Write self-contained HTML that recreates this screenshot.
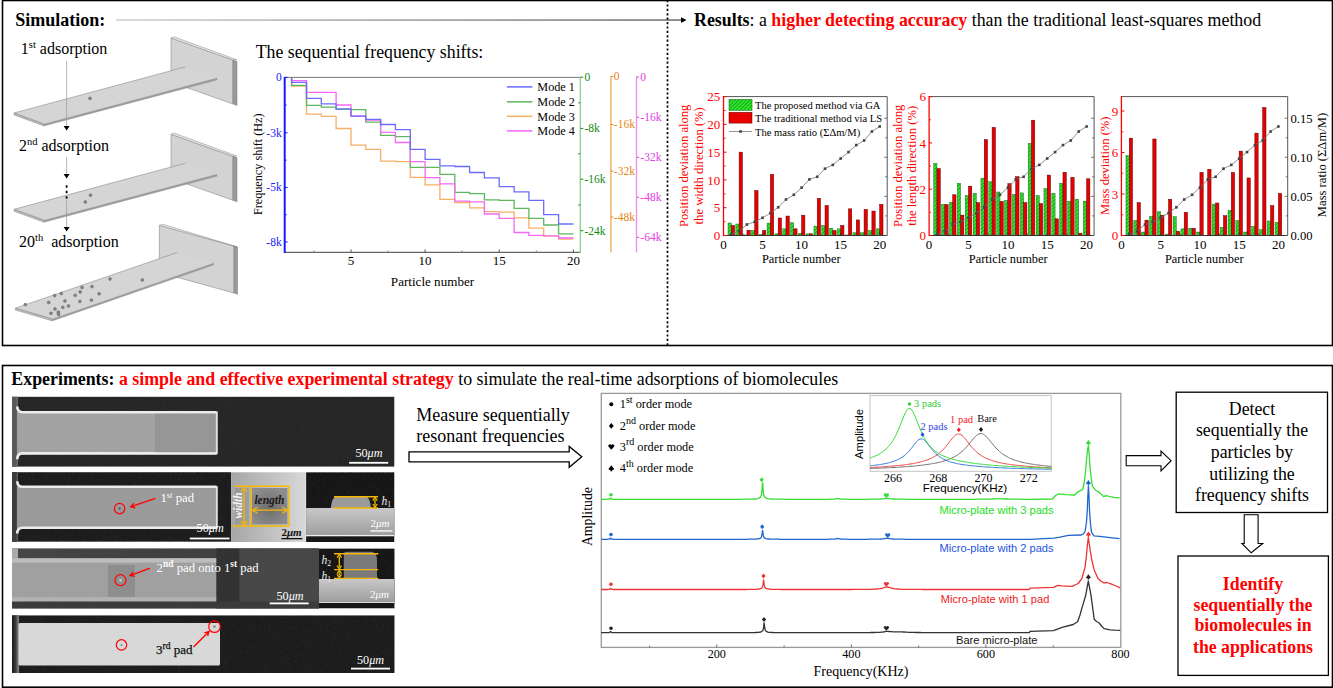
<!DOCTYPE html>
<html><head><meta charset="utf-8"><title>Sequential particle detection</title>
<style>html,body{margin:0;padding:0;background:#fff;}svg{display:block;}</style></head>
<body><svg width="1333" height="688" viewBox="0 0 1333 688">
<rect width="1333" height="688" fill="#fff"/>
<rect x="2.5" y="0.5" width="1330" height="345" fill="none" stroke="#000" stroke-width="1.6"/>
<text x="15.3" y="26.0" font-size="18" fill="#000" text-anchor="start" font-weight="bold" font-family="'Liberation Serif', 'Times New Roman', serif" >Simulation:</text>
<defs><linearGradient id="lg1" x1="0" x2="1" y1="0" y2="0"><stop offset="0" stop-color="#c8c8c8"/><stop offset="1" stop-color="#555"/></linearGradient></defs>
<rect x="116" y="19.4" width="566" height="1.3" fill="url(#lg1)"/>
<polygon points="681.0,17.3 686.5,20.1 681.0,22.9" fill="#000" stroke="none" stroke-width="0.5" />
<line x1="667.5" y1="0.0" x2="667.5" y2="345.0" stroke="#000" stroke-width="1.7" stroke-dasharray="2.2,2.2"/>
<text x="694" y="26.4" font-size="17.85" font-family="'Liberation Serif', 'Times New Roman', serif" fill="#000"><tspan font-weight="bold">Results</tspan>: a <tspan font-weight="bold" fill="#ff0000">higher detecting accuracy</tspan> than the traditional least-squares method</text>
<text x="20.8" y="54.4" font-size="16" font-family="'Liberation Serif', 'Times New Roman', serif" fill="#000">1<tspan font-size="10.5" dy="-6">st</tspan><tspan dy="6"> adsorption</tspan></text>
<text x="19" y="151" font-size="16" font-family="'Liberation Serif', 'Times New Roman', serif" fill="#000">2<tspan font-size="10.5" dy="-6">nd</tspan><tspan dy="6"> adsorption</tspan></text>
<text x="19" y="247" font-size="16" font-family="'Liberation Serif', 'Times New Roman', serif" fill="#000">20<tspan font-size="10.5" dy="-6">th</tspan><tspan dy="6">&#160; adsorption</tspan></text>
<polygon points="171.0,38.0 233.0,60.0 233.0,104.0 171.0,82.0" fill="#d3d3d3" stroke="#8a8a8a" stroke-width="0.6" />
<polygon points="171.0,38.0 174.0,36.8 237.0,59.8 233.0,60.0" fill="#e6e6e6" stroke="#8a8a8a" stroke-width="0.5" />
<polygon points="233.0,60.0 237.0,61.5 237.0,105.5 233.0,104.0" fill="#9a9a9a" stroke="#777" stroke-width="0.5" />
<polygon points="14.0,113.0 185.0,67.0 217.0,78.0 44.0,124.0" fill="#d5d5d5" stroke="none" stroke-width="0.5" />
<line x1="14.0" y1="113.0" x2="185.0" y2="67.0" stroke="#8a8a8a" stroke-width="0.6" />
<line x1="14.0" y1="113.0" x2="44.0" y2="124.0" stroke="#8a8a8a" stroke-width="0.6" />
<polygon points="44.0,124.0 217.0,78.0 217.0,79.9 44.0,126.0" fill="#9c9c9c" stroke="#888" stroke-width="0.3" />
<polygon points="14.0,113.0 44.0,124.0 44.0,126.0 14.0,114.9" fill="#bdbdbd" stroke="#777" stroke-width="0.4" />
<circle cx="90" cy="98.4" r="1.4" fill="#8a8a8a" stroke="#555" stroke-width="0.5"/>
<polygon points="171.0,134.3 233.0,156.3 233.0,200.3 171.0,178.3" fill="#d3d3d3" stroke="#8a8a8a" stroke-width="0.6" />
<polygon points="171.0,134.3 174.0,133.1 237.0,156.1 233.0,156.3" fill="#e6e6e6" stroke="#8a8a8a" stroke-width="0.5" />
<polygon points="233.0,156.3 237.0,157.8 237.0,201.8 233.0,200.3" fill="#9a9a9a" stroke="#777" stroke-width="0.5" />
<polygon points="14.0,209.3 185.0,163.3 217.0,174.3 44.0,220.3" fill="#d5d5d5" stroke="none" stroke-width="0.5" />
<line x1="14.0" y1="209.3" x2="185.0" y2="163.3" stroke="#8a8a8a" stroke-width="0.6" />
<line x1="14.0" y1="209.3" x2="44.0" y2="220.3" stroke="#8a8a8a" stroke-width="0.6" />
<polygon points="44.0,220.3 217.0,174.3 217.0,176.2 44.0,222.3" fill="#9c9c9c" stroke="#888" stroke-width="0.3" />
<polygon points="14.0,209.3 44.0,220.3 44.0,222.3 14.0,211.2" fill="#bdbdbd" stroke="#777" stroke-width="0.4" />
<circle cx="90.5" cy="195.2" r="1.4" fill="#8a8a8a" stroke="#555" stroke-width="0.5"/>
<circle cx="85.3" cy="202" r="1.4" fill="#8a8a8a" stroke="#555" stroke-width="0.5"/>
<polygon points="159.4,225.4 234.0,246.0 234.0,293.0 159.4,272.4" fill="#d3d3d3" stroke="#8a8a8a" stroke-width="0.6" />
<polygon points="159.4,225.4 162.5,224.2 237.5,247.0 234.0,246.0" fill="#e6e6e6" stroke="#8a8a8a" stroke-width="0.5" />
<polygon points="234.0,246.0 237.5,247.2 237.5,294.2 234.0,293.0" fill="#9a9a9a" stroke="#777" stroke-width="0.5" />
<polygon points="15.4,308.2 177.4,252.4 213.5,263.2 52.3,319.0" fill="#d5d5d5" stroke="none" stroke-width="0.5" />
<line x1="15.4" y1="308.2" x2="177.4" y2="252.4" stroke="#8a8a8a" stroke-width="0.6" />
<line x1="15.4" y1="308.2" x2="52.3" y2="319.0" stroke="#8a8a8a" stroke-width="0.6" />
<polygon points="52.3,319.0 213.5,263.2 213.5,265.1 52.3,320.9" fill="#9c9c9c" stroke="#888" stroke-width="0.3" />
<polygon points="15.4,308.2 52.3,319.0 52.3,320.9 15.4,310.1" fill="#bdbdbd" stroke="#777" stroke-width="0.4" />
<circle cx="25.3" cy="304.6" r="1.4" fill="#8a8a8a" stroke="#555" stroke-width="0.5"/>
<circle cx="48.7" cy="302.5" r="1.4" fill="#8a8a8a" stroke="#555" stroke-width="0.5"/>
<circle cx="54.7" cy="295.6" r="1.4" fill="#8a8a8a" stroke="#555" stroke-width="0.5"/>
<circle cx="61.3" cy="293.5" r="1.4" fill="#8a8a8a" stroke="#555" stroke-width="0.5"/>
<circle cx="64.9" cy="301" r="1.4" fill="#8a8a8a" stroke="#555" stroke-width="0.5"/>
<circle cx="55" cy="309" r="1.4" fill="#8a8a8a" stroke="#555" stroke-width="0.5"/>
<circle cx="51" cy="313.3" r="1.4" fill="#8a8a8a" stroke="#555" stroke-width="0.5"/>
<circle cx="58.3" cy="312.2" r="1.4" fill="#8a8a8a" stroke="#555" stroke-width="0.5"/>
<circle cx="58.6" cy="314.5" r="1.4" fill="#8a8a8a" stroke="#555" stroke-width="0.5"/>
<circle cx="62.8" cy="307.3" r="1.4" fill="#8a8a8a" stroke="#555" stroke-width="0.5"/>
<circle cx="68.5" cy="306" r="1.4" fill="#8a8a8a" stroke="#555" stroke-width="0.5"/>
<circle cx="75.2" cy="295.3" r="1.4" fill="#8a8a8a" stroke="#555" stroke-width="0.5"/>
<circle cx="80.2" cy="292" r="1.4" fill="#8a8a8a" stroke="#555" stroke-width="0.5"/>
<circle cx="82" cy="287.5" r="1.4" fill="#8a8a8a" stroke="#555" stroke-width="0.5"/>
<circle cx="92" cy="286.6" r="1.4" fill="#8a8a8a" stroke="#555" stroke-width="0.5"/>
<circle cx="79.9" cy="301.4" r="1.4" fill="#8a8a8a" stroke="#555" stroke-width="0.5"/>
<circle cx="91.4" cy="300.1" r="1.4" fill="#8a8a8a" stroke="#555" stroke-width="0.5"/>
<circle cx="99.1" cy="293.8" r="1.4" fill="#8a8a8a" stroke="#555" stroke-width="0.5"/>
<circle cx="110" cy="279" r="1.4" fill="#8a8a8a" stroke="#555" stroke-width="0.5"/>
<circle cx="142.3" cy="280" r="1.4" fill="#8a8a8a" stroke="#555" stroke-width="0.5"/>
<line x1="66.6" y1="61.0" x2="66.6" y2="127.0" stroke="#999" stroke-width="0.7" />
<polygon points="63.6,126.0 69.6,126.0 66.6,130.5" fill="#000" stroke="none" stroke-width="0.5" />
<line x1="66.6" y1="157.0" x2="66.6" y2="175.0" stroke="#999" stroke-width="0.7" />
<polygon points="63.6,174.0 69.6,174.0 66.6,178.5" fill="#000" stroke="none" stroke-width="0.5" />
<rect x="65.7" y="185.3" width="1.8" height="2.4" fill="#000"/>
<rect x="65.7" y="190.8" width="1.8" height="2.4" fill="#000"/>
<rect x="65.7" y="196.3" width="1.8" height="2.4" fill="#000"/>
<line x1="66.6" y1="200.0" x2="66.6" y2="228.0" stroke="#999" stroke-width="0.7" />
<polygon points="63.6,227.0 69.6,227.0 66.6,231.5" fill="#000" stroke="none" stroke-width="0.5" />
<text x="255.7" y="57.5" font-size="17.8" fill="#000" text-anchor="start" font-weight="normal" font-family="'Liberation Serif', 'Times New Roman', serif" >The sequential frequency shifts:</text>
<path d="M291.6,77.4 L291.6,86.2 L306.5,86.2 L306.5,114.1 L321.3,114.1 L321.3,116.3 L336.1,116.3 L336.1,128.5 L351.0,128.5 L351.0,145.1 L365.8,145.1 L365.8,149.3 L380.6,149.3 L380.6,161.1 L395.4,161.1 L395.4,161.7 L410.3,161.7 L410.3,177.4 L425.1,177.4 L425.1,184.8 L439.9,184.8 L439.9,199.3 L454.8,199.3 L454.8,202.7 L469.6,202.7 L469.6,207.8 L484.4,207.8 L484.4,211.6 L499.2,211.6 L499.2,212.2 L514.1,212.2 L514.1,217.8 L528.9,217.8 L528.9,228.2 L543.7,228.2 L543.7,235.8 L558.6,235.8 L558.6,239.2 L573.4,239.2" fill="none" stroke="#f6b066" stroke-width="1.3"/>
<path d="M291.6,77.4 L291.6,85.3 L306.5,85.3 L306.5,105.3 L321.3,105.3 L321.3,107.1 L336.1,107.1 L336.1,109.3 L351.0,109.3 L351.0,109.7 L365.8,109.7 L365.8,122.2 L380.6,122.2 L380.6,135.3 L395.4,135.3 L395.4,136.7 L410.3,136.7 L410.3,167.3 L425.1,167.3 L425.1,167.4 L439.9,167.4 L439.9,174.4 L454.8,174.4 L454.8,192.3 L469.6,192.3 L469.6,193.6 L484.4,193.6 L484.4,199.9 L499.2,199.9 L499.2,200.4 L514.1,200.4 L514.1,208.4 L528.9,208.4 L528.9,218.4 L543.7,218.4 L543.7,225.0 L558.6,225.0 L558.6,233.9 L573.4,233.9" fill="none" stroke="#5cb85c" stroke-width="1.3"/>
<path d="M291.6,77.4 L291.6,80.6 L306.5,80.6 L306.5,92.3 L321.3,92.3 L321.3,92.3 L336.1,92.3 L336.1,105.0 L351.0,105.0 L351.0,116.1 L365.8,116.1 L365.8,120.2 L380.6,120.2 L380.6,132.4 L395.4,132.4 L395.4,142.5 L410.3,142.5 L410.3,161.7 L425.1,161.7 L425.1,177.6 L439.9,177.6 L439.9,183.8 L454.8,183.8 L454.8,201.2 L469.6,201.2 L469.6,201.8 L484.4,201.8 L484.4,214.0 L499.2,214.0 L499.2,218.4 L514.1,218.4 L514.1,232.5 L528.9,232.5 L528.9,235.4 L543.7,235.4 L543.7,235.8 L558.6,235.8 L558.6,238.0 L573.4,238.0" fill="none" stroke="#f56af5" stroke-width="1.3"/>
<path d="M291.6,77.4 L291.6,82.3 L306.5,82.3 L306.5,98.4 L321.3,98.4 L321.3,103.9 L336.1,103.9 L336.1,108.8 L351.0,108.8 L351.0,116.1 L365.8,116.1 L365.8,119.3 L380.6,119.3 L380.6,124.5 L395.4,124.5 L395.4,129.7 L410.3,129.7 L410.3,149.3 L425.1,149.3 L425.1,159.3 L439.9,159.3 L439.9,165.9 L454.8,165.9 L454.8,166.5 L469.6,166.5 L469.6,172.5 L484.4,172.5 L484.4,177.8 L499.2,177.8 L499.2,186.7 L514.1,186.7 L514.1,191.8 L528.9,191.8 L528.9,200.4 L543.7,200.4 L543.7,214.6 L558.6,214.6 L558.6,224.0 L573.4,224.0" fill="none" stroke="#6b6bff" stroke-width="1.3"/>
<line x1="284.7" y1="77.4" x2="580.3" y2="77.4" stroke="#777" stroke-width="1" />
<line x1="284.7" y1="252.4" x2="580.3" y2="252.4" stroke="#666" stroke-width="1.2" />
<line x1="284.7" y1="76.9" x2="284.7" y2="253.0" stroke="#1a1aff" stroke-width="2" />
<line x1="580.3" y1="76.9" x2="580.3" y2="252.9" stroke="#8fcf8f" stroke-width="1.3" />
<line x1="351.0" y1="252.4" x2="351.0" y2="249.4" stroke="#555" stroke-width="1" />
<text x="351.0" y="265.0" font-size="13" fill="#000" text-anchor="middle" font-weight="normal" font-family="'Liberation Serif', 'Times New Roman', serif" >5</text>
<line x1="425.1" y1="252.4" x2="425.1" y2="249.4" stroke="#555" stroke-width="1" />
<text x="425.1" y="265.0" font-size="13" fill="#000" text-anchor="middle" font-weight="normal" font-family="'Liberation Serif', 'Times New Roman', serif" >10</text>
<line x1="499.2" y1="252.4" x2="499.2" y2="249.4" stroke="#555" stroke-width="1" />
<text x="499.2" y="265.0" font-size="13" fill="#000" text-anchor="middle" font-weight="normal" font-family="'Liberation Serif', 'Times New Roman', serif" >15</text>
<line x1="573.4" y1="252.4" x2="573.4" y2="249.4" stroke="#555" stroke-width="1" />
<text x="573.4" y="265.0" font-size="13" fill="#000" text-anchor="middle" font-weight="normal" font-family="'Liberation Serif', 'Times New Roman', serif" >20</text>
<line x1="313.9" y1="252.4" x2="313.9" y2="250.4" stroke="#777" stroke-width="0.8" />
<line x1="388.0" y1="252.4" x2="388.0" y2="250.4" stroke="#777" stroke-width="0.8" />
<line x1="462.2" y1="252.4" x2="462.2" y2="250.4" stroke="#777" stroke-width="0.8" />
<line x1="536.3" y1="252.4" x2="536.3" y2="250.4" stroke="#777" stroke-width="0.8" />
<text x="432.5" y="285.5" font-size="13.1" fill="#000" text-anchor="middle" font-weight="normal" font-family="'Liberation Serif', 'Times New Roman', serif" >Particle number</text>
<text x="281.7" y="81.2" font-size="11.5" fill="#2222ff" text-anchor="end" font-weight="normal" font-family="'Liberation Serif', 'Times New Roman', serif" >0</text>
<line x1="284.7" y1="77.4" x2="287.7" y2="77.4" stroke="#1a1aff" stroke-width="1" />
<text x="281.7" y="136.6" font-size="11.5" fill="#2222ff" text-anchor="end" font-weight="normal" font-family="'Liberation Serif', 'Times New Roman', serif" >-3k</text>
<line x1="284.7" y1="132.8" x2="287.7" y2="132.8" stroke="#1a1aff" stroke-width="1" />
<text x="281.7" y="191.2" font-size="11.5" fill="#2222ff" text-anchor="end" font-weight="normal" font-family="'Liberation Serif', 'Times New Roman', serif" >-5k</text>
<line x1="284.7" y1="187.4" x2="287.7" y2="187.4" stroke="#1a1aff" stroke-width="1" />
<text x="281.7" y="245.8" font-size="11.5" fill="#2222ff" text-anchor="end" font-weight="normal" font-family="'Liberation Serif', 'Times New Roman', serif" >-8k</text>
<line x1="284.7" y1="242.0" x2="287.7" y2="242.0" stroke="#1a1aff" stroke-width="1" />
<line x1="284.7" y1="105.1" x2="286.7" y2="105.1" stroke="#1a1aff" stroke-width="1" />
<line x1="284.7" y1="160.1" x2="286.7" y2="160.1" stroke="#1a1aff" stroke-width="1" />
<line x1="284.7" y1="214.7" x2="286.7" y2="214.7" stroke="#1a1aff" stroke-width="1" />
<text x="0.0" y="0.0" font-size="12.2" fill="#000" text-anchor="middle" font-weight="normal" font-family="'Liberation Serif', 'Times New Roman', serif" transform="translate(262.2,164.3) rotate(-90)">Frequency shift (Hz)</text>
<text x="584.5" y="81.0" font-size="11.5" fill="#138a13" text-anchor="start" font-weight="normal" font-family="'Liberation Serif', 'Times New Roman', serif" >0</text>
<line x1="580.3" y1="77.2" x2="583.3" y2="77.2" stroke="#138a13" stroke-width="1" />
<text x="584.5" y="132.2" font-size="11.5" fill="#138a13" text-anchor="start" font-weight="normal" font-family="'Liberation Serif', 'Times New Roman', serif" >-8k</text>
<line x1="580.3" y1="128.4" x2="583.3" y2="128.4" stroke="#138a13" stroke-width="1" />
<text x="584.5" y="183.0" font-size="11.5" fill="#138a13" text-anchor="start" font-weight="normal" font-family="'Liberation Serif', 'Times New Roman', serif" >-16k</text>
<line x1="580.3" y1="179.2" x2="583.3" y2="179.2" stroke="#138a13" stroke-width="1" />
<text x="584.5" y="234.5" font-size="11.5" fill="#138a13" text-anchor="start" font-weight="normal" font-family="'Liberation Serif', 'Times New Roman', serif" >-24k</text>
<line x1="580.3" y1="230.7" x2="583.3" y2="230.7" stroke="#138a13" stroke-width="1" />
<line x1="578.3" y1="102.8" x2="580.3" y2="102.8" stroke="#138a13" stroke-width="1" />
<line x1="578.3" y1="153.8" x2="580.3" y2="153.8" stroke="#138a13" stroke-width="1" />
<line x1="578.3" y1="205.0" x2="580.3" y2="205.0" stroke="#138a13" stroke-width="1" />
<line x1="610.9" y1="76.6" x2="610.9" y2="252.5" stroke="#f2a650" stroke-width="1.3" />
<text x="613.8" y="80.4" font-size="11.5" fill="#e5861a" text-anchor="start" font-weight="normal" font-family="'Liberation Serif', 'Times New Roman', serif" >0</text>
<line x1="610.9" y1="76.6" x2="613.4" y2="76.6" stroke="#e5861a" stroke-width="1" />
<text x="613.8" y="128.4" font-size="11.5" fill="#e5861a" text-anchor="start" font-weight="normal" font-family="'Liberation Serif', 'Times New Roman', serif" >-16k</text>
<line x1="610.9" y1="124.6" x2="613.4" y2="124.6" stroke="#e5861a" stroke-width="1" />
<text x="613.8" y="174.9" font-size="11.5" fill="#e5861a" text-anchor="start" font-weight="normal" font-family="'Liberation Serif', 'Times New Roman', serif" >-32k</text>
<line x1="610.9" y1="171.1" x2="613.4" y2="171.1" stroke="#e5861a" stroke-width="1" />
<text x="613.8" y="220.8" font-size="11.5" fill="#e5861a" text-anchor="start" font-weight="normal" font-family="'Liberation Serif', 'Times New Roman', serif" >-48k</text>
<line x1="610.9" y1="217.0" x2="613.4" y2="217.0" stroke="#e5861a" stroke-width="1" />
<line x1="636.5" y1="76.6" x2="636.5" y2="252.5" stroke="#f08cf0" stroke-width="1.3" />
<text x="640.3" y="80.8" font-size="11.5" fill="#e040e0" text-anchor="start" font-weight="normal" font-family="'Liberation Serif', 'Times New Roman', serif" >0</text>
<line x1="636.5" y1="77.0" x2="639.0" y2="77.0" stroke="#e040e0" stroke-width="1" />
<text x="640.3" y="121.1" font-size="11.5" fill="#e040e0" text-anchor="start" font-weight="normal" font-family="'Liberation Serif', 'Times New Roman', serif" >-16k</text>
<line x1="636.5" y1="117.3" x2="639.0" y2="117.3" stroke="#e040e0" stroke-width="1" />
<text x="640.3" y="161.2" font-size="11.5" fill="#e040e0" text-anchor="start" font-weight="normal" font-family="'Liberation Serif', 'Times New Roman', serif" >-32k</text>
<line x1="636.5" y1="157.4" x2="639.0" y2="157.4" stroke="#e040e0" stroke-width="1" />
<text x="640.3" y="201.1" font-size="11.5" fill="#e040e0" text-anchor="start" font-weight="normal" font-family="'Liberation Serif', 'Times New Roman', serif" >-48k</text>
<line x1="636.5" y1="197.3" x2="639.0" y2="197.3" stroke="#e040e0" stroke-width="1" />
<text x="640.3" y="241.2" font-size="11.5" fill="#e040e0" text-anchor="start" font-weight="normal" font-family="'Liberation Serif', 'Times New Roman', serif" >-64k</text>
<line x1="636.5" y1="237.4" x2="639.0" y2="237.4" stroke="#e040e0" stroke-width="1" />
<line x1="506.9" y1="86.9" x2="532.4" y2="86.9" stroke="#6b6bff" stroke-width="1.5" />
<text x="537.3" y="91.1" font-size="12.2" fill="#000" text-anchor="start" font-weight="normal" font-family="'Liberation Serif', 'Times New Roman', serif" >Mode 1</text>
<line x1="506.9" y1="101.8" x2="532.4" y2="101.8" stroke="#5cb85c" stroke-width="1.5" />
<text x="537.3" y="106.0" font-size="12.2" fill="#000" text-anchor="start" font-weight="normal" font-family="'Liberation Serif', 'Times New Roman', serif" >Mode 2</text>
<line x1="506.9" y1="116.3" x2="532.4" y2="116.3" stroke="#f6b066" stroke-width="1.5" />
<text x="537.3" y="120.5" font-size="12.2" fill="#000" text-anchor="start" font-weight="normal" font-family="'Liberation Serif', 'Times New Roman', serif" >Mode 3</text>
<line x1="506.9" y1="130.9" x2="532.4" y2="130.9" stroke="#f56af5" stroke-width="1.5" />
<text x="537.3" y="135.1" font-size="12.2" fill="#000" text-anchor="start" font-weight="normal" font-family="'Liberation Serif', 'Times New Roman', serif" >Mode 4</text>
<defs><pattern id="hatch" patternUnits="userSpaceOnUse" width="2.6" height="2.6" patternTransform="rotate(45)"><rect width="2.6" height="2.6" fill="#2ee82e"/><rect width="0.8" height="2.6" fill="#139a13"/></pattern></defs>
<rect x="728.01" y="223.00" width="3.30" height="12.50" fill="url(#hatch)" stroke="#1a5a1a" stroke-width="0.4"/>
<rect x="731.31" y="225.50" width="3.30" height="10.00" fill="#e80000" stroke="#5a0000" stroke-width="0.5"/>
<rect x="735.82" y="224.00" width="3.30" height="11.50" fill="url(#hatch)" stroke="#1a5a1a" stroke-width="0.4"/>
<rect x="739.12" y="152.16" width="3.30" height="83.34" fill="#e80000" stroke="#5a0000" stroke-width="0.5"/>
<rect x="743.63" y="234.94" width="3.30" height="0.56" fill="url(#hatch)" stroke="#1a5a1a" stroke-width="0.4"/>
<rect x="746.93" y="230.22" width="3.30" height="5.28" fill="#e80000" stroke="#5a0000" stroke-width="0.5"/>
<rect x="751.44" y="230.22" width="3.30" height="5.28" fill="url(#hatch)" stroke="#1a5a1a" stroke-width="0.4"/>
<rect x="754.74" y="190.66" width="3.30" height="44.84" fill="#e80000" stroke="#5a0000" stroke-width="0.5"/>
<rect x="759.25" y="234.39" width="3.30" height="1.11" fill="url(#hatch)" stroke="#1a5a1a" stroke-width="0.4"/>
<rect x="762.55" y="230.50" width="3.30" height="5.00" fill="#e80000" stroke="#5a0000" stroke-width="0.5"/>
<rect x="767.06" y="223.00" width="3.30" height="12.50" fill="url(#hatch)" stroke="#1a5a1a" stroke-width="0.4"/>
<rect x="770.36" y="174.38" width="3.30" height="61.12" fill="#e80000" stroke="#5a0000" stroke-width="0.5"/>
<rect x="774.87" y="233.83" width="3.30" height="1.67" fill="url(#hatch)" stroke="#1a5a1a" stroke-width="0.4"/>
<rect x="778.17" y="218.00" width="3.30" height="17.50" fill="#e80000" stroke="#5a0000" stroke-width="0.5"/>
<rect x="782.68" y="228.83" width="3.30" height="6.67" fill="url(#hatch)" stroke="#1a5a1a" stroke-width="0.4"/>
<rect x="785.98" y="216.05" width="3.30" height="19.45" fill="#e80000" stroke="#5a0000" stroke-width="0.5"/>
<rect x="790.49" y="222.72" width="3.30" height="12.78" fill="url(#hatch)" stroke="#1a5a1a" stroke-width="0.4"/>
<rect x="793.79" y="228.83" width="3.30" height="6.67" fill="#e80000" stroke="#5a0000" stroke-width="0.5"/>
<rect x="798.30" y="233.28" width="3.30" height="2.22" fill="url(#hatch)" stroke="#1a5a1a" stroke-width="0.4"/>
<rect x="801.60" y="215.22" width="3.30" height="20.28" fill="#e80000" stroke="#5a0000" stroke-width="0.5"/>
<rect x="806.11" y="233.83" width="3.30" height="1.67" fill="url(#hatch)" stroke="#1a5a1a" stroke-width="0.4"/>
<rect x="809.41" y="233.83" width="3.30" height="1.67" fill="#e80000" stroke="#5a0000" stroke-width="0.5"/>
<rect x="813.92" y="226.05" width="3.30" height="9.45" fill="url(#hatch)" stroke="#1a5a1a" stroke-width="0.4"/>
<rect x="817.22" y="198.27" width="3.30" height="37.23" fill="#e80000" stroke="#5a0000" stroke-width="0.5"/>
<rect x="821.73" y="225.50" width="3.30" height="10.00" fill="url(#hatch)" stroke="#1a5a1a" stroke-width="0.4"/>
<rect x="825.03" y="205.50" width="3.30" height="30.00" fill="#e80000" stroke="#5a0000" stroke-width="0.5"/>
<rect x="829.54" y="228.28" width="3.30" height="7.22" fill="url(#hatch)" stroke="#1a5a1a" stroke-width="0.4"/>
<rect x="832.84" y="230.50" width="3.30" height="5.00" fill="#e80000" stroke="#5a0000" stroke-width="0.5"/>
<rect x="837.35" y="228.83" width="3.30" height="6.67" fill="url(#hatch)" stroke="#1a5a1a" stroke-width="0.4"/>
<rect x="840.65" y="225.50" width="3.30" height="10.00" fill="#e80000" stroke="#5a0000" stroke-width="0.5"/>
<rect x="845.16" y="234.94" width="3.30" height="0.56" fill="url(#hatch)" stroke="#1a5a1a" stroke-width="0.4"/>
<rect x="848.46" y="208.83" width="3.30" height="26.67" fill="#e80000" stroke="#5a0000" stroke-width="0.5"/>
<rect x="852.97" y="232.72" width="3.30" height="2.78" fill="url(#hatch)" stroke="#1a5a1a" stroke-width="0.4"/>
<rect x="856.27" y="219.94" width="3.30" height="15.56" fill="#e80000" stroke="#5a0000" stroke-width="0.5"/>
<rect x="860.78" y="232.72" width="3.30" height="2.78" fill="url(#hatch)" stroke="#1a5a1a" stroke-width="0.4"/>
<rect x="864.08" y="209.39" width="3.30" height="26.11" fill="#e80000" stroke="#5a0000" stroke-width="0.5"/>
<rect x="868.59" y="230.50" width="3.30" height="5.00" fill="url(#hatch)" stroke="#1a5a1a" stroke-width="0.4"/>
<rect x="871.89" y="211.05" width="3.30" height="24.45" fill="#e80000" stroke="#5a0000" stroke-width="0.5"/>
<rect x="876.40" y="228.83" width="3.30" height="6.67" fill="url(#hatch)" stroke="#1a5a1a" stroke-width="0.4"/>
<rect x="879.70" y="204.39" width="3.30" height="31.11" fill="#e80000" stroke="#5a0000" stroke-width="0.5"/>
<path d="M731.3,234.1 L739.1,231.2 L746.9,224.5 L754.7,221.9 L762.5,217.8 L770.4,213.1 L778.2,207.3 L786.0,199.5 L793.8,194.8 L801.6,187.6 L809.4,179.4 L817.2,176.8 L825.0,168.7 L832.8,164.9 L840.6,158.5 L848.5,152.1 L856.3,145.1 L864.1,140.5 L871.9,131.5 L879.7,126.5" fill="none" stroke="#777" stroke-width="0.8"/>
<rect x="730.0" y="232.8" width="2.6" height="2.6" fill="#444"/>
<rect x="737.8" y="229.9" width="2.6" height="2.6" fill="#444"/>
<rect x="745.6" y="223.2" width="2.6" height="2.6" fill="#444"/>
<rect x="753.4" y="220.6" width="2.6" height="2.6" fill="#444"/>
<rect x="761.2" y="216.5" width="2.6" height="2.6" fill="#444"/>
<rect x="769.1" y="211.8" width="2.6" height="2.6" fill="#444"/>
<rect x="776.9" y="206.0" width="2.6" height="2.6" fill="#444"/>
<rect x="784.7" y="198.2" width="2.6" height="2.6" fill="#444"/>
<rect x="792.5" y="193.5" width="2.6" height="2.6" fill="#444"/>
<rect x="800.3" y="186.3" width="2.6" height="2.6" fill="#444"/>
<rect x="808.1" y="178.1" width="2.6" height="2.6" fill="#444"/>
<rect x="815.9" y="175.5" width="2.6" height="2.6" fill="#444"/>
<rect x="823.7" y="167.4" width="2.6" height="2.6" fill="#444"/>
<rect x="831.5" y="163.6" width="2.6" height="2.6" fill="#444"/>
<rect x="839.4" y="157.2" width="2.6" height="2.6" fill="#444"/>
<rect x="847.2" y="150.8" width="2.6" height="2.6" fill="#444"/>
<rect x="855.0" y="143.8" width="2.6" height="2.6" fill="#444"/>
<rect x="862.8" y="139.2" width="2.6" height="2.6" fill="#444"/>
<rect x="870.6" y="130.2" width="2.6" height="2.6" fill="#444"/>
<rect x="878.4" y="125.2" width="2.6" height="2.6" fill="#444"/>
<line x1="723.5" y1="96.6" x2="887.2" y2="96.6" stroke="#555" stroke-width="1" />
<line x1="723.5" y1="235.5" x2="887.2" y2="235.5" stroke="#333" stroke-width="1.2" />
<line x1="887.2" y1="96.6" x2="887.2" y2="235.5" stroke="#555" stroke-width="1" />
<line x1="723.5" y1="96.1" x2="723.5" y2="236.1" stroke="#ff0000" stroke-width="1.3" />
<line x1="887.2" y1="235.5" x2="884.2" y2="235.5" stroke="#555" stroke-width="0.8" />
<line x1="887.2" y1="215.9" x2="885.2" y2="215.9" stroke="#555" stroke-width="0.8" />
<line x1="887.2" y1="196.4" x2="884.2" y2="196.4" stroke="#555" stroke-width="0.8" />
<line x1="887.2" y1="176.8" x2="885.2" y2="176.8" stroke="#555" stroke-width="0.8" />
<line x1="887.2" y1="157.3" x2="884.2" y2="157.3" stroke="#555" stroke-width="0.8" />
<line x1="887.2" y1="137.8" x2="885.2" y2="137.8" stroke="#555" stroke-width="0.8" />
<line x1="887.2" y1="118.2" x2="884.2" y2="118.2" stroke="#555" stroke-width="0.8" />
<line x1="723.5" y1="235.5" x2="726.5" y2="235.5" stroke="#ff0000" stroke-width="1" />
<text x="720.3" y="240.1" font-size="13" fill="#ff0000" text-anchor="end" font-weight="normal" font-family="'Liberation Serif', 'Times New Roman', serif" >0</text>
<line x1="723.5" y1="207.7" x2="726.5" y2="207.7" stroke="#ff0000" stroke-width="1" />
<text x="720.3" y="212.3" font-size="13" fill="#ff0000" text-anchor="end" font-weight="normal" font-family="'Liberation Serif', 'Times New Roman', serif" >5</text>
<line x1="723.5" y1="179.9" x2="726.5" y2="179.9" stroke="#ff0000" stroke-width="1" />
<text x="720.3" y="184.5" font-size="13" fill="#ff0000" text-anchor="end" font-weight="normal" font-family="'Liberation Serif', 'Times New Roman', serif" >10</text>
<line x1="723.5" y1="152.2" x2="726.5" y2="152.2" stroke="#ff0000" stroke-width="1" />
<text x="720.3" y="156.8" font-size="13" fill="#ff0000" text-anchor="end" font-weight="normal" font-family="'Liberation Serif', 'Times New Roman', serif" >15</text>
<line x1="723.5" y1="124.4" x2="726.5" y2="124.4" stroke="#ff0000" stroke-width="1" />
<text x="720.3" y="129.0" font-size="13" fill="#ff0000" text-anchor="end" font-weight="normal" font-family="'Liberation Serif', 'Times New Roman', serif" >20</text>
<line x1="723.5" y1="96.6" x2="726.5" y2="96.6" stroke="#ff0000" stroke-width="1" />
<text x="720.3" y="101.2" font-size="13" fill="#ff0000" text-anchor="end" font-weight="normal" font-family="'Liberation Serif', 'Times New Roman', serif" >25</text>
<line x1="723.5" y1="221.6" x2="725.5" y2="221.6" stroke="#ff0000" stroke-width="0.8" />
<line x1="723.5" y1="193.8" x2="725.5" y2="193.8" stroke="#ff0000" stroke-width="0.8" />
<line x1="723.5" y1="166.1" x2="725.5" y2="166.1" stroke="#ff0000" stroke-width="0.8" />
<line x1="723.5" y1="138.3" x2="725.5" y2="138.3" stroke="#ff0000" stroke-width="0.8" />
<line x1="723.5" y1="110.5" x2="725.5" y2="110.5" stroke="#ff0000" stroke-width="0.8" />
<text x="723.5" y="248.5" font-size="13" fill="#000" text-anchor="middle" font-weight="normal" font-family="'Liberation Serif', 'Times New Roman', serif" >0</text>
<text x="762.5" y="248.5" font-size="13" fill="#000" text-anchor="middle" font-weight="normal" font-family="'Liberation Serif', 'Times New Roman', serif" >5</text>
<line x1="762.5" y1="235.5" x2="762.5" y2="232.5" stroke="#333" stroke-width="0.8" />
<text x="801.6" y="248.5" font-size="13" fill="#000" text-anchor="middle" font-weight="normal" font-family="'Liberation Serif', 'Times New Roman', serif" >10</text>
<line x1="801.6" y1="235.5" x2="801.6" y2="232.5" stroke="#333" stroke-width="0.8" />
<text x="840.6" y="248.5" font-size="13" fill="#000" text-anchor="middle" font-weight="normal" font-family="'Liberation Serif', 'Times New Roman', serif" >15</text>
<line x1="840.6" y1="235.5" x2="840.6" y2="232.5" stroke="#333" stroke-width="0.8" />
<text x="879.7" y="248.5" font-size="13" fill="#000" text-anchor="middle" font-weight="normal" font-family="'Liberation Serif', 'Times New Roman', serif" >20</text>
<line x1="879.7" y1="235.5" x2="879.7" y2="232.5" stroke="#333" stroke-width="0.8" />
<line x1="743.0" y1="235.5" x2="743.0" y2="233.5" stroke="#333" stroke-width="0.7" />
<line x1="782.1" y1="235.5" x2="782.1" y2="233.5" stroke="#333" stroke-width="0.7" />
<line x1="821.1" y1="235.5" x2="821.1" y2="233.5" stroke="#333" stroke-width="0.7" />
<line x1="860.2" y1="235.5" x2="860.2" y2="233.5" stroke="#333" stroke-width="0.7" />
<text x="801.3" y="262.5" font-size="12.4" fill="#000" text-anchor="middle" font-weight="normal" font-family="'Liberation Serif', 'Times New Roman', serif" >Particle number</text>
<rect x="729" y="99.3" width="23" height="11.1" fill="url(#hatch)" stroke="#1a5a1a" stroke-width="0.5"/>
<rect x="729" y="112.3" width="23" height="10.8" fill="#e80000" stroke="#5a0000" stroke-width="0.5"/>
<line x1="729.0" y1="131.5" x2="752.0" y2="131.5" stroke="#777" stroke-width="0.8" />
<rect x="739.2" y="130.2" width="2.6" height="2.6" fill="#444"/>
<text x="755.0" y="108.6" font-size="10.55" fill="#000" text-anchor="start" font-weight="normal" font-family="'Liberation Serif', 'Times New Roman', serif" >The proposed method via GA</text>
<text x="755.0" y="121.6" font-size="10.55" fill="#000" text-anchor="start" font-weight="normal" font-family="'Liberation Serif', 'Times New Roman', serif" >The traditional method via LS</text>
<text x="755.0" y="135.5" font-size="10.55" fill="#000" text-anchor="start" font-weight="normal" font-family="'Liberation Serif', 'Times New Roman', serif" >The mass ratio (ΣΔm/M)</text>
<text x="0.0" y="0.0" font-size="12.6" fill="#ff0000" text-anchor="middle" font-weight="normal" font-family="'Liberation Serif', 'Times New Roman', serif" transform="translate(688.4,165.8) rotate(-90)">Position deviation along</text>
<text x="0.0" y="0.0" font-size="12.6" fill="#ff0000" text-anchor="middle" font-weight="normal" font-family="'Liberation Serif', 'Times New Roman', serif" transform="translate(702.6,165.8) rotate(-90)">the width direction (%)</text>
<rect x="933.68" y="163.50" width="3.30" height="72.00" fill="url(#hatch)" stroke="#1a5a1a" stroke-width="0.4"/>
<rect x="936.98" y="168.60" width="3.30" height="66.90" fill="#e80000" stroke="#5a0000" stroke-width="0.5"/>
<rect x="941.55" y="204.48" width="3.30" height="31.02" fill="url(#hatch)" stroke="#1a5a1a" stroke-width="0.4"/>
<rect x="944.85" y="204.48" width="3.30" height="31.02" fill="#e80000" stroke="#5a0000" stroke-width="0.5"/>
<rect x="949.43" y="202.16" width="3.30" height="33.34" fill="url(#hatch)" stroke="#1a5a1a" stroke-width="0.4"/>
<rect x="952.73" y="194.76" width="3.30" height="40.74" fill="#e80000" stroke="#5a0000" stroke-width="0.5"/>
<rect x="957.30" y="183.18" width="3.30" height="52.32" fill="url(#hatch)" stroke="#1a5a1a" stroke-width="0.4"/>
<rect x="960.60" y="215.13" width="3.30" height="20.37" fill="#e80000" stroke="#5a0000" stroke-width="0.5"/>
<rect x="965.18" y="195.45" width="3.30" height="40.05" fill="url(#hatch)" stroke="#1a5a1a" stroke-width="0.4"/>
<rect x="968.48" y="186.19" width="3.30" height="49.31" fill="#e80000" stroke="#5a0000" stroke-width="0.5"/>
<rect x="973.05" y="193.37" width="3.30" height="42.13" fill="url(#hatch)" stroke="#1a5a1a" stroke-width="0.4"/>
<rect x="976.35" y="202.63" width="3.30" height="32.87" fill="#e80000" stroke="#5a0000" stroke-width="0.5"/>
<rect x="980.93" y="178.09" width="3.30" height="57.41" fill="url(#hatch)" stroke="#1a5a1a" stroke-width="0.4"/>
<rect x="984.23" y="139.66" width="3.30" height="95.84" fill="#e80000" stroke="#5a0000" stroke-width="0.5"/>
<rect x="988.80" y="181.79" width="3.30" height="53.71" fill="url(#hatch)" stroke="#1a5a1a" stroke-width="0.4"/>
<rect x="992.10" y="127.39" width="3.30" height="108.11" fill="#e80000" stroke="#5a0000" stroke-width="0.5"/>
<rect x="996.68" y="191.98" width="3.30" height="43.52" fill="url(#hatch)" stroke="#1a5a1a" stroke-width="0.4"/>
<rect x="999.98" y="201.47" width="3.30" height="34.03" fill="#e80000" stroke="#5a0000" stroke-width="0.5"/>
<rect x="1004.55" y="200.54" width="3.30" height="34.96" fill="url(#hatch)" stroke="#1a5a1a" stroke-width="0.4"/>
<rect x="1007.85" y="183.64" width="3.30" height="51.86" fill="#e80000" stroke="#5a0000" stroke-width="0.5"/>
<rect x="1012.43" y="194.29" width="3.30" height="41.21" fill="url(#hatch)" stroke="#1a5a1a" stroke-width="0.4"/>
<rect x="1015.73" y="176.70" width="3.30" height="58.80" fill="#e80000" stroke="#5a0000" stroke-width="0.5"/>
<rect x="1020.30" y="192.90" width="3.30" height="42.60" fill="url(#hatch)" stroke="#1a5a1a" stroke-width="0.4"/>
<rect x="1023.60" y="202.63" width="3.30" height="32.87" fill="#e80000" stroke="#5a0000" stroke-width="0.5"/>
<rect x="1028.17" y="143.36" width="3.30" height="92.14" fill="url(#hatch)" stroke="#1a5a1a" stroke-width="0.4"/>
<rect x="1031.47" y="120.21" width="3.30" height="115.29" fill="#e80000" stroke="#5a0000" stroke-width="0.5"/>
<rect x="1036.05" y="195.45" width="3.30" height="40.05" fill="url(#hatch)" stroke="#1a5a1a" stroke-width="0.4"/>
<rect x="1039.35" y="203.55" width="3.30" height="31.95" fill="#e80000" stroke="#5a0000" stroke-width="0.5"/>
<rect x="1043.92" y="188.51" width="3.30" height="46.99" fill="url(#hatch)" stroke="#1a5a1a" stroke-width="0.4"/>
<rect x="1047.22" y="175.08" width="3.30" height="60.42" fill="#e80000" stroke="#5a0000" stroke-width="0.5"/>
<rect x="1051.80" y="193.37" width="3.30" height="42.13" fill="url(#hatch)" stroke="#1a5a1a" stroke-width="0.4"/>
<rect x="1055.10" y="218.83" width="3.30" height="16.67" fill="#e80000" stroke="#5a0000" stroke-width="0.5"/>
<rect x="1059.67" y="183.18" width="3.30" height="52.32" fill="url(#hatch)" stroke="#1a5a1a" stroke-width="0.4"/>
<rect x="1062.97" y="172.30" width="3.30" height="63.20" fill="#e80000" stroke="#5a0000" stroke-width="0.5"/>
<rect x="1067.55" y="201.24" width="3.30" height="34.26" fill="url(#hatch)" stroke="#1a5a1a" stroke-width="0.4"/>
<rect x="1070.85" y="177.39" width="3.30" height="58.11" fill="#e80000" stroke="#5a0000" stroke-width="0.5"/>
<rect x="1075.42" y="199.15" width="3.30" height="36.35" fill="url(#hatch)" stroke="#1a5a1a" stroke-width="0.4"/>
<rect x="1078.72" y="233.19" width="3.30" height="2.31" fill="#e80000" stroke="#5a0000" stroke-width="0.5"/>
<rect x="1083.30" y="201.24" width="3.30" height="34.26" fill="url(#hatch)" stroke="#1a5a1a" stroke-width="0.4"/>
<rect x="1086.60" y="178.78" width="3.30" height="56.72" fill="#e80000" stroke="#5a0000" stroke-width="0.5"/>
<path d="M937.0,234.1 L944.9,231.2 L952.7,224.5 L960.6,221.9 L968.5,217.8 L976.4,213.1 L984.2,207.3 L992.1,199.5 L1000.0,194.8 L1007.9,187.6 L1015.7,179.4 L1023.6,176.8 L1031.5,168.7 L1039.3,164.9 L1047.2,158.5 L1055.1,152.1 L1063.0,145.1 L1070.8,140.5 L1078.7,131.5 L1086.6,126.5" fill="none" stroke="#777" stroke-width="0.8"/>
<rect x="935.7" y="232.8" width="2.6" height="2.6" fill="#444"/>
<rect x="943.6" y="229.9" width="2.6" height="2.6" fill="#444"/>
<rect x="951.4" y="223.2" width="2.6" height="2.6" fill="#444"/>
<rect x="959.3" y="220.6" width="2.6" height="2.6" fill="#444"/>
<rect x="967.2" y="216.5" width="2.6" height="2.6" fill="#444"/>
<rect x="975.1" y="211.8" width="2.6" height="2.6" fill="#444"/>
<rect x="982.9" y="206.0" width="2.6" height="2.6" fill="#444"/>
<rect x="990.8" y="198.2" width="2.6" height="2.6" fill="#444"/>
<rect x="998.7" y="193.5" width="2.6" height="2.6" fill="#444"/>
<rect x="1006.6" y="186.3" width="2.6" height="2.6" fill="#444"/>
<rect x="1014.4" y="178.1" width="2.6" height="2.6" fill="#444"/>
<rect x="1022.3" y="175.5" width="2.6" height="2.6" fill="#444"/>
<rect x="1030.2" y="167.4" width="2.6" height="2.6" fill="#444"/>
<rect x="1038.0" y="163.6" width="2.6" height="2.6" fill="#444"/>
<rect x="1045.9" y="157.2" width="2.6" height="2.6" fill="#444"/>
<rect x="1053.8" y="150.8" width="2.6" height="2.6" fill="#444"/>
<rect x="1061.7" y="143.8" width="2.6" height="2.6" fill="#444"/>
<rect x="1069.5" y="139.2" width="2.6" height="2.6" fill="#444"/>
<rect x="1077.4" y="130.2" width="2.6" height="2.6" fill="#444"/>
<rect x="1085.3" y="125.2" width="2.6" height="2.6" fill="#444"/>
<line x1="929.1" y1="96.6" x2="1094.1" y2="96.6" stroke="#555" stroke-width="1" />
<line x1="929.1" y1="235.5" x2="1094.1" y2="235.5" stroke="#333" stroke-width="1.2" />
<line x1="1094.1" y1="96.6" x2="1094.1" y2="235.5" stroke="#555" stroke-width="1" />
<line x1="929.1" y1="96.1" x2="929.1" y2="236.1" stroke="#ff0000" stroke-width="1.3" />
<line x1="1094.1" y1="235.5" x2="1091.1" y2="235.5" stroke="#555" stroke-width="0.8" />
<line x1="1094.1" y1="215.9" x2="1092.1" y2="215.9" stroke="#555" stroke-width="0.8" />
<line x1="1094.1" y1="196.4" x2="1091.1" y2="196.4" stroke="#555" stroke-width="0.8" />
<line x1="1094.1" y1="176.8" x2="1092.1" y2="176.8" stroke="#555" stroke-width="0.8" />
<line x1="1094.1" y1="157.3" x2="1091.1" y2="157.3" stroke="#555" stroke-width="0.8" />
<line x1="1094.1" y1="137.8" x2="1092.1" y2="137.8" stroke="#555" stroke-width="0.8" />
<line x1="1094.1" y1="118.2" x2="1091.1" y2="118.2" stroke="#555" stroke-width="0.8" />
<line x1="929.1" y1="235.5" x2="932.1" y2="235.5" stroke="#ff0000" stroke-width="1" />
<text x="925.9" y="240.1" font-size="13" fill="#ff0000" text-anchor="end" font-weight="normal" font-family="'Liberation Serif', 'Times New Roman', serif" >0</text>
<line x1="929.1" y1="189.2" x2="932.1" y2="189.2" stroke="#ff0000" stroke-width="1" />
<text x="925.9" y="193.8" font-size="13" fill="#ff0000" text-anchor="end" font-weight="normal" font-family="'Liberation Serif', 'Times New Roman', serif" >2</text>
<line x1="929.1" y1="142.9" x2="932.1" y2="142.9" stroke="#ff0000" stroke-width="1" />
<text x="925.9" y="147.5" font-size="13" fill="#ff0000" text-anchor="end" font-weight="normal" font-family="'Liberation Serif', 'Times New Roman', serif" >4</text>
<line x1="929.1" y1="96.6" x2="932.1" y2="96.6" stroke="#ff0000" stroke-width="1" />
<text x="925.9" y="101.2" font-size="13" fill="#ff0000" text-anchor="end" font-weight="normal" font-family="'Liberation Serif', 'Times New Roman', serif" >6</text>
<line x1="929.1" y1="212.3" x2="931.1" y2="212.3" stroke="#ff0000" stroke-width="0.8" />
<line x1="929.1" y1="166.1" x2="931.1" y2="166.1" stroke="#ff0000" stroke-width="0.8" />
<line x1="929.1" y1="119.8" x2="931.1" y2="119.8" stroke="#ff0000" stroke-width="0.8" />
<text x="929.1" y="248.5" font-size="13" fill="#000" text-anchor="middle" font-weight="normal" font-family="'Liberation Serif', 'Times New Roman', serif" >0</text>
<text x="968.5" y="248.5" font-size="13" fill="#000" text-anchor="middle" font-weight="normal" font-family="'Liberation Serif', 'Times New Roman', serif" >5</text>
<line x1="968.5" y1="235.5" x2="968.5" y2="232.5" stroke="#333" stroke-width="0.8" />
<text x="1007.9" y="248.5" font-size="13" fill="#000" text-anchor="middle" font-weight="normal" font-family="'Liberation Serif', 'Times New Roman', serif" >10</text>
<line x1="1007.9" y1="235.5" x2="1007.9" y2="232.5" stroke="#333" stroke-width="0.8" />
<text x="1047.2" y="248.5" font-size="13" fill="#000" text-anchor="middle" font-weight="normal" font-family="'Liberation Serif', 'Times New Roman', serif" >15</text>
<line x1="1047.2" y1="235.5" x2="1047.2" y2="232.5" stroke="#333" stroke-width="0.8" />
<text x="1086.6" y="248.5" font-size="13" fill="#000" text-anchor="middle" font-weight="normal" font-family="'Liberation Serif', 'Times New Roman', serif" >20</text>
<line x1="1086.6" y1="235.5" x2="1086.6" y2="232.5" stroke="#333" stroke-width="0.8" />
<line x1="948.8" y1="235.5" x2="948.8" y2="233.5" stroke="#333" stroke-width="0.7" />
<line x1="988.2" y1="235.5" x2="988.2" y2="233.5" stroke="#333" stroke-width="0.7" />
<line x1="1027.5" y1="235.5" x2="1027.5" y2="233.5" stroke="#333" stroke-width="0.7" />
<line x1="1066.9" y1="235.5" x2="1066.9" y2="233.5" stroke="#333" stroke-width="0.7" />
<text x="1008.2" y="262.5" font-size="12.4" fill="#000" text-anchor="middle" font-weight="normal" font-family="'Liberation Serif', 'Times New Roman', serif" >Particle number</text>
<text x="0.0" y="0.0" font-size="12.6" fill="#ff0000" text-anchor="middle" font-weight="normal" font-family="'Liberation Serif', 'Times New Roman', serif" transform="translate(902.4,165.8) rotate(-90)">Position deviation along</text>
<text x="0.0" y="0.0" font-size="12.6" fill="#ff0000" text-anchor="middle" font-weight="normal" font-family="'Liberation Serif', 'Times New Roman', serif" transform="translate(916.4,165.8) rotate(-90)">the length direction (%)</text>
<rect x="1125.95" y="155.56" width="3.30" height="79.94" fill="url(#hatch)" stroke="#1a5a1a" stroke-width="0.4"/>
<rect x="1129.25" y="138.14" width="3.30" height="97.36" fill="#e80000" stroke="#5a0000" stroke-width="0.5"/>
<rect x="1133.80" y="220.43" width="3.30" height="15.07" fill="url(#hatch)" stroke="#1a5a1a" stroke-width="0.4"/>
<rect x="1137.10" y="202.72" width="3.30" height="32.78" fill="#e80000" stroke="#5a0000" stroke-width="0.5"/>
<rect x="1141.65" y="232.04" width="3.30" height="3.46" fill="url(#hatch)" stroke="#1a5a1a" stroke-width="0.4"/>
<rect x="1144.95" y="220.15" width="3.30" height="15.35" fill="#e80000" stroke="#5a0000" stroke-width="0.5"/>
<rect x="1149.50" y="216.55" width="3.30" height="18.95" fill="url(#hatch)" stroke="#1a5a1a" stroke-width="0.4"/>
<rect x="1152.80" y="138.97" width="3.30" height="96.53" fill="#e80000" stroke="#5a0000" stroke-width="0.5"/>
<rect x="1157.35" y="211.71" width="3.30" height="23.79" fill="url(#hatch)" stroke="#1a5a1a" stroke-width="0.4"/>
<rect x="1160.65" y="215.17" width="3.30" height="20.33" fill="#e80000" stroke="#5a0000" stroke-width="0.5"/>
<rect x="1165.20" y="234.12" width="3.30" height="1.38" fill="url(#hatch)" stroke="#1a5a1a" stroke-width="0.4"/>
<rect x="1168.50" y="199.27" width="3.30" height="36.23" fill="#e80000" stroke="#5a0000" stroke-width="0.5"/>
<rect x="1173.05" y="216.55" width="3.30" height="18.95" fill="url(#hatch)" stroke="#1a5a1a" stroke-width="0.4"/>
<rect x="1176.35" y="231.21" width="3.30" height="4.29" fill="#e80000" stroke="#5a0000" stroke-width="0.5"/>
<rect x="1180.90" y="228.86" width="3.30" height="6.64" fill="url(#hatch)" stroke="#1a5a1a" stroke-width="0.4"/>
<rect x="1184.20" y="212.27" width="3.30" height="23.23" fill="#e80000" stroke="#5a0000" stroke-width="0.5"/>
<rect x="1188.75" y="228.31" width="3.30" height="7.19" fill="url(#hatch)" stroke="#1a5a1a" stroke-width="0.4"/>
<rect x="1192.05" y="228.31" width="3.30" height="7.19" fill="#e80000" stroke="#5a0000" stroke-width="0.5"/>
<rect x="1196.60" y="232.04" width="3.30" height="3.46" fill="url(#hatch)" stroke="#1a5a1a" stroke-width="0.4"/>
<rect x="1199.90" y="172.44" width="3.30" height="63.06" fill="#e80000" stroke="#5a0000" stroke-width="0.5"/>
<rect x="1207.75" y="169.25" width="3.30" height="66.25" fill="#e80000" stroke="#5a0000" stroke-width="0.5"/>
<rect x="1212.30" y="204.11" width="3.30" height="31.39" fill="url(#hatch)" stroke="#1a5a1a" stroke-width="0.4"/>
<rect x="1215.60" y="203.00" width="3.30" height="32.50" fill="#e80000" stroke="#5a0000" stroke-width="0.5"/>
<rect x="1220.15" y="227.34" width="3.30" height="8.16" fill="url(#hatch)" stroke="#1a5a1a" stroke-width="0.4"/>
<rect x="1223.45" y="215.72" width="3.30" height="19.78" fill="#e80000" stroke="#5a0000" stroke-width="0.5"/>
<rect x="1228.00" y="210.19" width="3.30" height="25.31" fill="url(#hatch)" stroke="#1a5a1a" stroke-width="0.4"/>
<rect x="1231.30" y="172.44" width="3.30" height="63.06" fill="#e80000" stroke="#5a0000" stroke-width="0.5"/>
<rect x="1235.85" y="220.43" width="3.30" height="15.07" fill="url(#hatch)" stroke="#1a5a1a" stroke-width="0.4"/>
<rect x="1239.15" y="151.14" width="3.30" height="84.36" fill="#e80000" stroke="#5a0000" stroke-width="0.5"/>
<rect x="1243.70" y="232.04" width="3.30" height="3.46" fill="url(#hatch)" stroke="#1a5a1a" stroke-width="0.4"/>
<rect x="1247.00" y="177.97" width="3.30" height="57.53" fill="#e80000" stroke="#5a0000" stroke-width="0.5"/>
<rect x="1251.55" y="226.23" width="3.30" height="9.27" fill="url(#hatch)" stroke="#1a5a1a" stroke-width="0.4"/>
<rect x="1254.85" y="133.16" width="3.30" height="102.34" fill="#e80000" stroke="#5a0000" stroke-width="0.5"/>
<rect x="1259.40" y="229.69" width="3.30" height="5.81" fill="url(#hatch)" stroke="#1a5a1a" stroke-width="0.4"/>
<rect x="1262.70" y="107.57" width="3.30" height="127.93" fill="#e80000" stroke="#5a0000" stroke-width="0.5"/>
<rect x="1267.25" y="220.98" width="3.30" height="14.52" fill="url(#hatch)" stroke="#1a5a1a" stroke-width="0.4"/>
<rect x="1270.55" y="205.63" width="3.30" height="29.87" fill="#e80000" stroke="#5a0000" stroke-width="0.5"/>
<rect x="1275.10" y="222.36" width="3.30" height="13.14" fill="url(#hatch)" stroke="#1a5a1a" stroke-width="0.4"/>
<rect x="1278.40" y="193.46" width="3.30" height="42.04" fill="#e80000" stroke="#5a0000" stroke-width="0.5"/>
<path d="M1129.2,234.1 L1137.1,231.2 L1145.0,224.5 L1152.8,221.9 L1160.7,217.8 L1168.5,213.1 L1176.4,207.3 L1184.2,199.5 L1192.1,194.8 L1199.9,187.6 L1207.8,179.4 L1215.6,176.8 L1223.5,168.7 L1231.3,164.9 L1239.2,158.5 L1247.0,152.1 L1254.9,145.1 L1262.7,140.5 L1270.6,131.5 L1278.4,126.5" fill="none" stroke="#777" stroke-width="0.8"/>
<rect x="1128.0" y="232.8" width="2.6" height="2.6" fill="#444"/>
<rect x="1135.8" y="229.9" width="2.6" height="2.6" fill="#444"/>
<rect x="1143.7" y="223.2" width="2.6" height="2.6" fill="#444"/>
<rect x="1151.5" y="220.6" width="2.6" height="2.6" fill="#444"/>
<rect x="1159.4" y="216.5" width="2.6" height="2.6" fill="#444"/>
<rect x="1167.2" y="211.8" width="2.6" height="2.6" fill="#444"/>
<rect x="1175.1" y="206.0" width="2.6" height="2.6" fill="#444"/>
<rect x="1182.9" y="198.2" width="2.6" height="2.6" fill="#444"/>
<rect x="1190.8" y="193.5" width="2.6" height="2.6" fill="#444"/>
<rect x="1198.6" y="186.3" width="2.6" height="2.6" fill="#444"/>
<rect x="1206.5" y="178.1" width="2.6" height="2.6" fill="#444"/>
<rect x="1214.3" y="175.5" width="2.6" height="2.6" fill="#444"/>
<rect x="1222.2" y="167.4" width="2.6" height="2.6" fill="#444"/>
<rect x="1230.0" y="163.6" width="2.6" height="2.6" fill="#444"/>
<rect x="1237.9" y="157.2" width="2.6" height="2.6" fill="#444"/>
<rect x="1245.7" y="150.8" width="2.6" height="2.6" fill="#444"/>
<rect x="1253.6" y="143.8" width="2.6" height="2.6" fill="#444"/>
<rect x="1261.4" y="139.2" width="2.6" height="2.6" fill="#444"/>
<rect x="1269.3" y="130.2" width="2.6" height="2.6" fill="#444"/>
<rect x="1277.1" y="125.2" width="2.6" height="2.6" fill="#444"/>
<line x1="1121.4" y1="96.6" x2="1287.7" y2="96.6" stroke="#555" stroke-width="1" />
<line x1="1121.4" y1="235.5" x2="1287.7" y2="235.5" stroke="#333" stroke-width="1.2" />
<line x1="1287.7" y1="96.6" x2="1287.7" y2="235.5" stroke="#555" stroke-width="1" />
<line x1="1121.4" y1="96.1" x2="1121.4" y2="236.1" stroke="#ff0000" stroke-width="1.3" />
<line x1="1287.7" y1="235.5" x2="1284.7" y2="235.5" stroke="#555" stroke-width="0.8" />
<line x1="1287.7" y1="215.9" x2="1285.7" y2="215.9" stroke="#555" stroke-width="0.8" />
<line x1="1287.7" y1="196.4" x2="1284.7" y2="196.4" stroke="#555" stroke-width="0.8" />
<line x1="1287.7" y1="176.8" x2="1285.7" y2="176.8" stroke="#555" stroke-width="0.8" />
<line x1="1287.7" y1="157.3" x2="1284.7" y2="157.3" stroke="#555" stroke-width="0.8" />
<line x1="1287.7" y1="137.8" x2="1285.7" y2="137.8" stroke="#555" stroke-width="0.8" />
<line x1="1287.7" y1="118.2" x2="1284.7" y2="118.2" stroke="#555" stroke-width="0.8" />
<line x1="1121.4" y1="235.5" x2="1124.4" y2="235.5" stroke="#ff0000" stroke-width="1" />
<text x="1118.2" y="240.1" font-size="13" fill="#ff0000" text-anchor="end" font-weight="normal" font-family="'Liberation Serif', 'Times New Roman', serif" >0</text>
<line x1="1121.4" y1="194.0" x2="1124.4" y2="194.0" stroke="#ff0000" stroke-width="1" />
<text x="1118.2" y="198.6" font-size="13" fill="#ff0000" text-anchor="end" font-weight="normal" font-family="'Liberation Serif', 'Times New Roman', serif" >3</text>
<line x1="1121.4" y1="152.5" x2="1124.4" y2="152.5" stroke="#ff0000" stroke-width="1" />
<text x="1118.2" y="157.1" font-size="13" fill="#ff0000" text-anchor="end" font-weight="normal" font-family="'Liberation Serif', 'Times New Roman', serif" >6</text>
<line x1="1121.4" y1="111.0" x2="1124.4" y2="111.0" stroke="#ff0000" stroke-width="1" />
<text x="1118.2" y="115.6" font-size="13" fill="#ff0000" text-anchor="end" font-weight="normal" font-family="'Liberation Serif', 'Times New Roman', serif" >9</text>
<line x1="1121.4" y1="214.8" x2="1123.4" y2="214.8" stroke="#ff0000" stroke-width="0.8" />
<line x1="1121.4" y1="173.3" x2="1123.4" y2="173.3" stroke="#ff0000" stroke-width="0.8" />
<line x1="1121.4" y1="131.8" x2="1123.4" y2="131.8" stroke="#ff0000" stroke-width="0.8" />
<text x="1121.4" y="248.5" font-size="13" fill="#000" text-anchor="middle" font-weight="normal" font-family="'Liberation Serif', 'Times New Roman', serif" >0</text>
<text x="1160.7" y="248.5" font-size="13" fill="#000" text-anchor="middle" font-weight="normal" font-family="'Liberation Serif', 'Times New Roman', serif" >5</text>
<line x1="1160.7" y1="235.5" x2="1160.7" y2="232.5" stroke="#333" stroke-width="0.8" />
<text x="1199.9" y="248.5" font-size="13" fill="#000" text-anchor="middle" font-weight="normal" font-family="'Liberation Serif', 'Times New Roman', serif" >10</text>
<line x1="1199.9" y1="235.5" x2="1199.9" y2="232.5" stroke="#333" stroke-width="0.8" />
<text x="1239.2" y="248.5" font-size="13" fill="#000" text-anchor="middle" font-weight="normal" font-family="'Liberation Serif', 'Times New Roman', serif" >15</text>
<line x1="1239.2" y1="235.5" x2="1239.2" y2="232.5" stroke="#333" stroke-width="0.8" />
<text x="1278.4" y="248.5" font-size="13" fill="#000" text-anchor="middle" font-weight="normal" font-family="'Liberation Serif', 'Times New Roman', serif" >20</text>
<line x1="1278.4" y1="235.5" x2="1278.4" y2="232.5" stroke="#333" stroke-width="0.8" />
<line x1="1141.0" y1="235.5" x2="1141.0" y2="233.5" stroke="#333" stroke-width="0.7" />
<line x1="1180.3" y1="235.5" x2="1180.3" y2="233.5" stroke="#333" stroke-width="0.7" />
<line x1="1219.5" y1="235.5" x2="1219.5" y2="233.5" stroke="#333" stroke-width="0.7" />
<line x1="1258.8" y1="235.5" x2="1258.8" y2="233.5" stroke="#333" stroke-width="0.7" />
<text x="1204.3" y="262.5" font-size="12.4" fill="#000" text-anchor="middle" font-weight="normal" font-family="'Liberation Serif', 'Times New Roman', serif" >Particle number</text>
<text x="0.0" y="0.0" font-size="12.6" fill="#ff0000" text-anchor="middle" font-weight="normal" font-family="'Liberation Serif', 'Times New Roman', serif" transform="translate(1108.6,165.8) rotate(-90)">Mass deviation (%)</text>
<text x="1290.5" y="240.0" font-size="12.6" fill="#000" text-anchor="start" font-weight="normal" font-family="'Liberation Serif', 'Times New Roman', serif" >0.00</text>
<text x="1290.5" y="200.9" font-size="12.6" fill="#000" text-anchor="start" font-weight="normal" font-family="'Liberation Serif', 'Times New Roman', serif" >0.05</text>
<text x="1290.5" y="161.8" font-size="12.6" fill="#000" text-anchor="start" font-weight="normal" font-family="'Liberation Serif', 'Times New Roman', serif" >0.10</text>
<text x="1290.5" y="122.7" font-size="12.6" fill="#000" text-anchor="start" font-weight="normal" font-family="'Liberation Serif', 'Times New Roman', serif" >0.15</text>
<text x="0.0" y="0.0" font-size="12.6" fill="#000" text-anchor="middle" font-weight="normal" font-family="'Liberation Serif', 'Times New Roman', serif" transform="translate(1325.6,165) rotate(-90)">Mass ratio (ΣΔm/M)</text>
<rect x="2.5" y="365.5" width="1330" height="321.7" fill="none" stroke="#000" stroke-width="1.6"/>
<text x="11.3" y="384.8" font-size="17.87" font-family="'Liberation Serif', 'Times New Roman', serif" fill="#000"><tspan font-weight="bold">Experiments:</tspan> <tspan font-weight="bold" fill="#ff0000">a simple and effective experimental strategy</tspan> to simulate the real-time adsorptions of biomolecules</text>
<defs>
<filter id="noise" x="0" y="0" width="100%" height="100%"><feTurbulence type="fractalNoise" baseFrequency="0.9" numOctaves="2" seed="3" result="t"/><feColorMatrix in="t" type="matrix" values="0 0 0 0 0.5  0 0 0 0 0.5  0 0 0 0 0.5  0 0 0 0.9 -0.35" result="n"/><feComposite in="n" in2="SourceGraphic" operator="in" result="m"/><feBlend in="SourceGraphic" in2="m" mode="overlay"/></filter>
<linearGradient id="wallg" x1="0" x2="1"><stop offset="0" stop-color="#8a8a8a"/><stop offset="0.6" stop-color="#6a6a6a"/><stop offset="1" stop-color="#3a3a3a"/></linearGradient>
<linearGradient id="insA" x1="0" x2="1" y1="0" y2="0"><stop offset="0" stop-color="#a6a6a6"/><stop offset="0.6" stop-color="#c4c4c4"/><stop offset="1" stop-color="#d8d8d8"/></linearGradient>
<radialGradient id="sqA" cx="0.5" cy="0.55" r="0.6"><stop offset="0" stop-color="#6c6c6c"/><stop offset="1" stop-color="#8e8e8e"/></radialGradient>
<linearGradient id="subB" x1="0" x2="0" y1="0" y2="1"><stop offset="0" stop-color="#c8c8c8"/><stop offset="1" stop-color="#9e9e9e"/></linearGradient>
<linearGradient id="sem3bg" x1="0" x2="1"><stop offset="0" stop-color="#454545"/><stop offset="1" stop-color="#3c3c3c"/></linearGradient>
</defs>
<g filter="url(#noise)">
<rect x="12" y="396.8" width="382.3" height="69.8" fill="#272727"/>
<rect x="12" y="396.8" width="5.6" height="69.8" fill="#585858"/>
<rect x="17" y="411.6" width="200.5" height="42.6" fill="#a2a2a2" rx="1"/>
</g>
<line x1="17.3" y1="396.8" x2="17.3" y2="466.6" stroke="#9a9a9a" stroke-width="0.8" opacity="0.7"/>
<path d="M17.3,406.6 Q17.3,412.1 22.3,412.2 H216.5" fill="none" stroke="#ececec" stroke-width="2.6"/>
<path d="M17.3,459.2 Q17.3,453.5 22.3,453.4 H216.5" fill="none" stroke="#ececec" stroke-width="2.6"/>
<rect x="215.9" y="411.6" width="1.8" height="42.6" fill="#ececec" opacity="0.85"/>
<rect x="155" y="413.5" width="60.5" height="39" fill="#7a7a7a" opacity="0.3"/>
<rect x="349.1" y="461.9" width="39.1" height="1.8" fill="#fff"/>
<text x="355.4" y="457.2" font-size="12.2" font-family="'Liberation Serif', 'Times New Roman', serif" fill="#fff">50<tspan font-style="italic">μm</tspan></text>
<g filter="url(#noise)">
<rect x="12" y="472.2" width="219.2" height="69.5" fill="#1b1b1b"/>
<rect x="12" y="472.2" width="5.6" height="69.5" fill="#3c3c3c"/>
<rect x="17" y="486.2" width="200.5" height="42.4" fill="#9a9a9a" rx="1"/>
</g>
<line x1="17.3" y1="472.2" x2="17.3" y2="541.7" stroke="#9a9a9a" stroke-width="0.8" opacity="0.7"/>
<path d="M17.3,481.2 Q17.3,486.7 22.3,486.8 H216.5" fill="none" stroke="#ececec" stroke-width="2.6"/>
<path d="M17.3,533.6 Q17.3,527.9 22.3,527.8 H216.5" fill="none" stroke="#ececec" stroke-width="2.6"/>
<rect x="215.9" y="486.2" width="1.8" height="42.4" fill="#ececec" opacity="0.85"/>
<circle cx="119.6" cy="508.6" r="5.2" fill="none" stroke="#ff0000" stroke-width="1.2"/>
<circle cx="119.6" cy="508.6" r="1" fill="#444"/>
<line x1="155.3" y1="498.3" x2="134.1" y2="505.7" stroke="#ff0000" stroke-width="1.4" />
<polygon points="129.4,507.3 134.0,502.3 133.7,505.8 136.1,508.4" fill="#ff0000" stroke="none" stroke-width="0.5" />
<text x="160.4" y="502" font-size="12.8" font-family="'Liberation Serif', 'Times New Roman', serif" fill="#fff">1<tspan font-size="8.5" dy="-4.5">st</tspan><tspan dy="4.5"> pad</tspan></text>
<rect x="189.8" y="537.6" width="39.7" height="1.8" fill="#fff"/>
<text x="196.6" y="531.5" font-size="12.2" font-family="'Liberation Serif', 'Times New Roman', serif" fill="#fff">50<tspan font-style="italic">μm</tspan></text>
<g filter="url(#noise)">
<rect x="231.2" y="472.3" width="74.6" height="69.7" fill="url(#insA)"/>
<rect x="251.3" y="488" width="36.2" height="36.4" fill="url(#sqA)"/>
<rect x="235" y="488" width="14" height="36.4" fill="#8a8a8a" opacity="0.5"/>
</g>
<path d="M234.9,486.3 H288.9 V526 H232.8 M251.3,486.3 V526" fill="none" stroke="#f5b800" stroke-width="1.4"/>
<line x1="244.0" y1="489.5" x2="244.0" y2="523.0" stroke="#f5b800" stroke-width="1.3" />
<path d="M241,491.5 L244,487.5 L247,491.5" fill="none" stroke="#f5b800" stroke-width="1.3"/>
<path d="M241,521 L244,525 L247,521" fill="none" stroke="#f5b800" stroke-width="1.3"/>
<line x1="253.5" y1="510.2" x2="286.3" y2="510.2" stroke="#f5b800" stroke-width="1.3" />
<path d="M257.5,507.2 L252.5,510.2 L257.5,513.2" fill="none" stroke="#f5b800" stroke-width="1.3"/>
<path d="M282.3,507.2 L287.3,510.2 L282.3,513.2" fill="none" stroke="#f5b800" stroke-width="1.3"/>
<text x="0" y="0" font-size="11.5" font-style="italic" font-weight="bold" font-family="'Liberation Serif', 'Times New Roman', serif" fill="#f4f4f4" text-anchor="middle" transform="translate(242.2,505.5) rotate(-90)">width</text>
<text x="254.4" y="503.5" font-size="11.5" font-style="italic" font-weight="bold" font-family="'Liberation Serif', 'Times New Roman', serif" fill="#1a1a1a">length</text>
<text x="281.4" y="536" font-size="11" font-family="'Liberation Serif', 'Times New Roman', serif" font-weight="bold" fill="#111">2<tspan font-style="italic">μm</tspan></text>
<rect x="281.4" y="538" width="21" height="1.3" fill="#111"/>
<g filter="url(#noise)">
<rect x="306.1" y="472.3" width="88.2" height="69.7" fill="#141414"/>
<rect x="306.1" y="508" width="88.2" height="27.3" fill="url(#subB)"/>
<path d="M330.7,508 Q332,497 336,496.7 H366 Q370,497 371,508 Z" fill="#9a9a9a"/>
</g>
<rect x="306.1" y="535" width="88.2" height="1.3" fill="#f0f0f0"/>
<path d="M334,496.7 H378 M334,508 H378" fill="none" stroke="#f5b800" stroke-width="1.4"/>
<line x1="375.0" y1="499.5" x2="375.0" y2="505.2" stroke="#f5b800" stroke-width="1.3" />
<path d="M372.8,500.7 L375,497.5 L377.2,500.7" fill="none" stroke="#f5b800" stroke-width="1.3"/>
<path d="M372.8,504.0 L375,507.2 L377.2,504.0" fill="none" stroke="#f5b800" stroke-width="1.3"/>
<text x="381.5" y="505.2" font-size="11.5" font-style="italic" font-family="'Liberation Serif', 'Times New Roman', serif" fill="#eee">h<tspan font-size="7.5" dy="2" font-style="normal">1</tspan></text>
<text x="370.5" y="527.4" font-size="11" font-family="'Liberation Serif', 'Times New Roman', serif" fill="#fff">2<tspan font-style="italic">μm</tspan></text>
<rect x="370.5" y="530.3" width="22" height="1.3" fill="#fff"/>
<g filter="url(#noise)">
<rect x="12" y="548.4" width="307" height="60" fill="url(#sem3bg)"/>
<rect x="12" y="548.4" width="6" height="60" fill="#a9a9a9"/>
<rect x="12" y="558.3" width="204.5" height="43.4" fill="#a0a0a0"/>
<rect x="12" y="558.3" width="204.5" height="4.3" fill="#bdbdbd"/>
<rect x="12" y="597.2" width="204.5" height="4.4" fill="#b2b2b2"/>
<rect x="108" y="565" width="27" height="32" fill="#8e8e8e"/>
<rect x="216.5" y="548.4" width="23" height="60" fill="#323232"/>
<rect x="239.5" y="548.4" width="79.5" height="60" fill="#474747"/>
<rect x="12" y="601.6" width="307" height="6.8" fill="#3a3a3a"/>
</g>
<circle cx="120.5" cy="580.2" r="5.5" fill="none" stroke="#ff0000" stroke-width="1.2"/>
<circle cx="120.5" cy="580.2" r="1.3" fill="#d0d0d0"/>
<line x1="150.0" y1="568.2" x2="133.4" y2="574.3" stroke="#ff0000" stroke-width="1.4" />
<polygon points="128.7,576.0 133.2,570.9 132.9,574.5 135.4,576.9" fill="#ff0000" stroke="none" stroke-width="0.5" />
<text x="156.6" y="571.5" font-size="12.7" font-family="'Liberation Serif', 'Times New Roman', serif" fill="#fff">2<tspan font-size="9.5" dy="-4.8" font-weight="bold">nd</tspan><tspan dy="4.8"> pad onto 1</tspan><tspan font-size="9.5" dy="-4.8" font-weight="bold">st</tspan><tspan dy="4.8"> pad</tspan></text>
<rect x="269.7" y="602.5" width="39.0" height="1.8" fill="#fff"/>
<text x="276.5" y="600.0" font-size="12.2" font-family="'Liberation Serif', 'Times New Roman', serif" fill="#fff">50<tspan font-style="italic">μm</tspan></text>
<g filter="url(#noise)">
<rect x="319" y="548.6" width="75.5" height="59.7" fill="#161616"/>
<rect x="319" y="579" width="75.5" height="22.6" fill="url(#subB)"/>
<path d="M343.8,579 V553 Q345,551.7 348,551.7 H372 Q377,553 377,560 V579 Z" fill="#7a7a7a"/>
</g>
<rect x="319" y="601.6" width="75.5" height="1.3" fill="#eee"/>
<path d="M334,553.7 H378.3 M334,569.6 H378.3 M334,578.4 H378.3" fill="none" stroke="#f5b800" stroke-width="1.4"/>
<line x1="339.3" y1="556.5" x2="339.3" y2="566.8" stroke="#f5b800" stroke-width="1.3" />
<path d="M337.1,557.7 L339.3,554.5 L341.5,557.7" fill="none" stroke="#f5b800" stroke-width="1.3"/>
<path d="M337.1,565.5999999999999 L339.3,568.8 L341.5,565.5999999999999" fill="none" stroke="#f5b800" stroke-width="1.3"/>
<line x1="339.3" y1="572.4" x2="339.3" y2="575.6" stroke="#f5b800" stroke-width="1.3" />
<path d="M337.1,573.6 L339.3,570.4 L341.5,573.6" fill="none" stroke="#f5b800" stroke-width="1.3"/>
<path d="M337.1,574.4 L339.3,577.6 L341.5,574.4" fill="none" stroke="#f5b800" stroke-width="1.3"/>
<text x="321.5" y="564.4" font-size="11.5" font-style="italic" font-family="'Liberation Serif', 'Times New Roman', serif" fill="#eee">h<tspan font-size="7.5" dy="2" font-style="normal">2</tspan></text>
<text x="321.5" y="579.5" font-size="11.5" font-style="italic" font-family="'Liberation Serif', 'Times New Roman', serif" fill="#eee">h<tspan font-size="7.5" dy="2" font-style="normal">1</tspan></text>
<text x="370" y="598.2" font-size="11" font-family="'Liberation Serif', 'Times New Roman', serif" fill="#fff">2<tspan font-style="italic">μm</tspan></text>
<defs><linearGradient id="wall4" x1="0" x2="1"><stop offset="0" stop-color="#1a1a1a"/><stop offset="0.5" stop-color="#3a3a3a"/><stop offset="1" stop-color="#8a8a8a"/></linearGradient></defs>
<g filter="url(#noise)">
<rect x="12" y="615.4" width="382.5" height="57.6" fill="#1c1c1c"/>
<rect x="12" y="615.4" width="7" height="57.6" fill="url(#wall4)"/>
<rect x="18.5" y="623" width="201.5" height="42.5" fill="#d8d8d8" rx="1.5"/>
</g>
<circle cx="121.5" cy="644.9" r="5.2" fill="none" stroke="#ff0000" stroke-width="1.2"/>
<circle cx="121.5" cy="644.9" r="1" fill="#888"/>
<circle cx="214.5" cy="626.6" r="5.8" fill="none" stroke="#ff0000" stroke-width="1.2"/>
<circle cx="214.5" cy="626.6" r="1.2" fill="#777"/>
<line x1="193.5" y1="647.0" x2="206.5" y2="634.0" stroke="#ff0000" stroke-width="1.4" />
<polygon points="210.0,630.5 208.0,637.0 206.8,633.7 203.5,632.5" fill="#ff0000" stroke="none" stroke-width="0.5" />
<text x="156" y="654" font-size="13" font-family="'Liberation Serif', 'Times New Roman', serif" fill="#111" stroke="#111" stroke-width="0.25">3<tspan font-size="9.5" dy="-5">rd</tspan><tspan dy="5"> pad</tspan></text>
<rect x="351.0" y="667.7" width="39.0" height="1.8" fill="#fff"/>
<text x="357.0" y="664.0" font-size="12.2" font-family="'Liberation Serif', 'Times New Roman', serif" fill="#fff">50<tspan font-style="italic">μm</tspan></text>
<rect x="601.3" y="393.4" width="519.5" height="254.0" fill="none" stroke="#999" stroke-width="1.3"/>
<line x1="649.6" y1="647.4" x2="649.6" y2="645.4" stroke="#666" stroke-width="0.9" />
<line x1="716.8" y1="647.4" x2="716.8" y2="644.4" stroke="#666" stroke-width="0.9" />
<line x1="784.1" y1="647.4" x2="784.1" y2="645.4" stroke="#666" stroke-width="0.9" />
<line x1="851.4" y1="647.4" x2="851.4" y2="644.4" stroke="#666" stroke-width="0.9" />
<line x1="918.6" y1="647.4" x2="918.6" y2="645.4" stroke="#666" stroke-width="0.9" />
<line x1="985.9" y1="647.4" x2="985.9" y2="644.4" stroke="#666" stroke-width="0.9" />
<line x1="1053.2" y1="647.4" x2="1053.2" y2="645.4" stroke="#666" stroke-width="0.9" />
<text x="716.8" y="657.7" font-size="12.2" fill="#000" text-anchor="middle" font-weight="normal" font-family="'Liberation Serif', 'Times New Roman', serif" >200</text>
<text x="851.4" y="657.7" font-size="12.2" fill="#000" text-anchor="middle" font-weight="normal" font-family="'Liberation Serif', 'Times New Roman', serif" >400</text>
<text x="985.9" y="657.7" font-size="12.2" fill="#000" text-anchor="middle" font-weight="normal" font-family="'Liberation Serif', 'Times New Roman', serif" >600</text>
<text x="1120.5" y="657.7" font-size="12.2" fill="#000" text-anchor="middle" font-weight="normal" font-family="'Liberation Serif', 'Times New Roman', serif" >800</text>
<text x="861.0" y="675.6" font-size="14" fill="#000" text-anchor="middle" font-weight="normal" font-family="'Liberation Serif', 'Times New Roman', serif" >Frequency(KHz)</text>
<text x="0.0" y="0.0" font-size="13.8" fill="#000" text-anchor="middle" font-weight="normal" font-family="'Liberation Serif', 'Times New Roman', serif" transform="translate(592.3,516.6) rotate(-90)">Amplitude</text>
<circle cx="611.3" cy="404.3" r="2.0" fill="#000"/>
<text x="619.8" y="408.3" font-size="12.3" font-family="'Liberation Serif', 'Times New Roman', serif" fill="#000">1<tspan font-size="10" dy="-5.5">st</tspan><tspan dy="5.5"> order mode</tspan></text>
<polygon points="611.3,423.0 613.7,425.9 611.3,428.8 608.9,425.9" fill="#000" stroke="none" stroke-width="0.5" />
<text x="619.8" y="429.9" font-size="12.3" font-family="'Liberation Serif', 'Times New Roman', serif" fill="#000">2<tspan font-size="10" dy="-5.5">nd</tspan><tspan dy="5.5"> order mode</tspan></text>
<path d="M611.3,449.7 L608.4,446.6 A1.25,1.25 0 0 1 611.3,445.2 A1.25,1.25 0 0 1 614.2,446.6 Z" fill="#000"/>
<text x="619.8" y="450.8" font-size="12.3" font-family="'Liberation Serif', 'Times New Roman', serif" fill="#000">3<tspan font-size="10" dy="-5.5">rd</tspan><tspan dy="5.5"> order mode</tspan></text>
<path d="M611.3,465.3 L614.2,469.1 Q613.2,470.8 611.3,469.4 Q609.4,470.8 608.4,469.1 Z M611.3,468.4 L612.5,471.3 L610.1,471.3 Z" fill="#000"/>
<text x="619.8" y="472.4" font-size="12.3" font-family="'Liberation Serif', 'Times New Roman', serif" fill="#000">4<tspan font-size="10" dy="-5.5">th</tspan><tspan dy="5.5"> order mode</tspan></text>
<path d="M601.1,499.3 L602.1,499.3 L603.2,499.3 L604.2,499.3 L605.2,499.3 L606.2,499.3 L607.2,499.3 L608.2,499.2 L608.4,499.2 L608.5,499.2 L608.7,499.2 L608.9,499.2 L609.0,499.2 L609.2,499.1 L609.4,499.1 L609.5,499.0 L609.7,498.9 L609.9,498.8 L610.0,498.7 L610.2,498.4 L610.4,498.2 L610.6,498.1 L610.7,498.2 L610.9,498.4 L611.1,498.7 L611.2,498.8 L611.4,498.9 L611.6,499.0 L611.7,499.1 L611.9,499.1 L612.1,499.2 L612.2,499.2 L612.4,499.2 L612.6,499.2 L612.7,499.2 L612.9,499.2 L613.1,499.2 L613.2,499.3 L614.3,499.3 L615.3,499.3 L616.3,499.3 L617.3,499.3 L618.3,499.3 L619.3,499.3 L620.3,499.3 L621.3,499.3 L622.3,499.3 L623.3,499.3 L624.3,499.3 L625.4,499.3 L626.4,499.3 L627.4,499.3 L628.4,499.3 L629.4,499.3 L630.4,499.3 L631.4,499.3 L632.4,499.3 L633.4,499.3 L634.4,499.3 L635.4,499.3 L636.5,499.3 L637.5,499.3 L638.5,499.3 L639.5,499.3 L640.5,499.3 L641.5,499.3 L642.5,499.3 L643.5,499.3 L644.5,499.3 L645.5,499.3 L646.5,499.3 L647.6,499.3 L648.6,499.3 L649.6,499.3 L650.6,499.3 L651.6,499.3 L652.6,499.3 L653.6,499.3 L654.6,499.3 L655.6,499.3 L656.6,499.3 L657.6,499.3 L658.7,499.3 L659.7,499.3 L660.7,499.3 L661.7,499.3 L662.7,499.3 L663.7,499.3 L664.7,499.3 L665.7,499.3 L666.7,499.3 L667.7,499.3 L668.7,499.3 L669.8,499.3 L670.8,499.3 L671.8,499.3 L672.8,499.3 L673.8,499.3 L674.8,499.3 L675.8,499.3 L676.8,499.3 L677.8,499.3 L678.8,499.3 L679.8,499.3 L680.9,499.3 L681.9,499.3 L682.9,499.3 L683.9,499.3 L684.9,499.3 L685.9,499.3 L686.9,499.3 L687.9,499.3 L688.9,499.3 L689.9,499.3 L690.9,499.3 L692.0,499.3 L693.0,499.3 L694.0,499.3 L695.0,499.3 L696.0,499.3 L697.0,499.3 L698.0,499.3 L699.0,499.3 L700.0,499.3 L701.0,499.3 L702.0,499.3 L703.0,499.3 L704.1,499.3 L705.1,499.3 L706.1,499.3 L707.1,499.3 L708.1,499.3 L709.1,499.3 L710.1,499.3 L711.1,499.3 L712.1,499.3 L713.1,499.3 L714.1,499.3 L715.2,499.3 L716.2,499.3 L717.2,499.3 L718.2,499.3 L719.2,499.3 L720.2,499.3 L721.2,499.3 L722.2,499.3 L723.2,499.3 L724.2,499.3 L725.2,499.3 L726.3,499.3 L727.3,499.3 L728.3,499.3 L729.3,499.3 L730.3,499.3 L731.3,499.3 L732.3,499.3 L733.3,499.3 L734.3,499.3 L735.3,499.3 L736.3,499.3 L737.4,499.3 L738.4,499.3 L739.4,499.3 L740.4,499.3 L741.4,499.3 L742.4,499.2 L743.4,499.2 L744.4,499.2 L745.4,499.2 L746.4,499.2 L747.4,499.2 L748.5,499.2 L749.5,499.2 L750.5,499.2 L751.5,499.1 L752.5,499.1 L753.5,499.0 L754.5,499.0 L755.5,498.9 L756.5,498.8 L757.5,498.6 L757.7,498.6 L757.9,498.5 L758.0,498.5 L758.2,498.4 L758.4,498.4 L758.5,498.3 L758.7,498.2 L758.9,498.2 L759.1,498.1 L759.2,498.0 L759.4,497.9 L759.6,497.8 L759.7,497.7 L759.9,497.5 L760.1,497.4 L760.2,497.2 L760.4,497.0 L760.6,496.8 L760.7,496.5 L760.9,496.2 L761.1,495.8 L761.2,495.4 L761.4,494.8 L761.6,494.0 L761.7,493.0 L761.9,491.5 L762.1,489.4 L762.2,486.8 L762.4,484.1 L762.6,482.8 L762.8,484.1 L762.9,486.8 L763.1,489.4 L763.3,491.5 L763.4,493.0 L763.6,494.0 L763.8,494.8 L763.9,495.4 L764.1,495.8 L764.3,496.2 L764.4,496.5 L764.6,496.8 L764.8,497.0 L764.9,497.2 L765.1,497.4 L765.3,497.5 L765.4,497.7 L765.6,497.8 L765.8,497.9 L765.9,498.0 L766.1,498.1 L766.3,498.2 L766.5,498.2 L766.6,498.3 L766.8,498.4 L767.0,498.4 L767.1,498.5 L767.3,498.5 L767.5,498.6 L767.6,498.6 L767.8,498.6 L768.0,498.7 L769.0,498.8 L770.0,498.9 L771.0,499.0 L772.0,499.1 L773.0,499.1 L774.0,499.1 L775.0,499.2 L776.0,499.2 L777.0,499.2 L778.1,499.2 L779.1,499.2 L780.1,499.2 L781.1,499.2 L782.1,499.2 L783.1,499.2 L784.1,499.2 L785.1,499.3 L786.1,499.3 L787.1,499.3 L788.1,499.3 L789.2,499.3 L790.2,499.3 L791.2,499.3 L792.2,499.3 L793.2,499.3 L794.2,499.3 L795.2,499.3 L796.2,499.3 L797.2,499.3 L798.2,499.3 L799.2,499.3 L800.3,499.3 L801.3,499.3 L802.3,499.3 L803.3,499.3 L804.3,499.3 L805.3,499.3 L806.3,499.3 L807.3,499.3 L808.3,499.3 L809.3,499.3 L810.3,499.3 L811.4,499.3 L812.4,499.3 L813.4,499.3 L814.4,499.3 L815.4,499.3 L816.4,499.3 L817.4,499.3 L818.4,499.3 L819.4,499.3 L820.4,499.3 L821.4,499.3 L822.5,499.3 L823.5,499.3 L824.5,499.3 L825.5,499.3 L826.5,499.3 L827.5,499.3 L828.5,499.3 L829.5,499.2 L830.5,499.2 L831.5,499.2 L832.5,499.2 L833.6,499.1 L834.6,499.1 L835.6,498.9 L836.6,498.7 L837.6,498.5 L838.6,498.6 L839.6,498.8 L840.6,499.0 L841.6,499.1 L842.6,499.2 L843.6,499.2 L844.7,499.2 L845.7,499.2 L846.7,499.2 L847.7,499.3 L848.7,499.3 L849.7,499.3 L850.7,499.3 L851.7,499.3 L852.7,499.3 L853.7,499.3 L854.7,499.3 L855.8,499.3 L856.8,499.3 L857.8,499.3 L858.8,499.3 L859.8,499.3 L860.8,499.3 L861.8,499.3 L862.8,499.3 L863.8,499.3 L864.8,499.3 L865.8,499.3 L866.9,499.3 L867.9,499.3 L868.9,499.2 L869.9,499.2 L870.9,499.2 L871.9,499.2 L872.9,499.2 L873.9,499.2 L874.9,499.2 L875.9,499.2 L876.9,499.2 L878.0,499.1 L879.0,499.1 L880.0,499.0 L881.0,499.0 L882.0,498.9 L883.0,498.8 L884.0,498.7 L885.0,498.5 L886.0,498.4 L887.0,498.3 L888.0,498.4 L889.1,498.5 L890.1,498.7 L891.1,498.8 L892.1,498.9 L893.1,499.0 L894.1,499.0 L895.1,499.1 L896.1,499.1 L897.1,499.2 L898.1,499.2 L899.1,499.2 L900.2,499.2 L901.2,499.2 L902.2,499.2 L903.2,499.2 L904.2,499.2 L905.2,499.2 L906.2,499.3 L907.2,499.3 L908.2,499.3 L909.2,499.3 L910.2,499.3 L911.3,499.3 L912.3,499.3 L913.3,499.3 L914.3,499.3 L915.3,499.3 L916.3,499.3 L917.3,499.3 L918.3,499.3 L919.3,499.3 L920.3,499.3 L921.3,499.3 L922.3,499.3 L923.4,499.3 L924.4,499.3 L925.4,499.3 L926.4,499.3 L927.4,499.3 L928.4,499.3 L929.4,499.3 L930.4,499.3 L931.4,499.3 L932.4,499.3 L933.4,499.3 L934.5,499.3 L935.5,499.3 L936.5,499.3 L937.5,499.3 L938.5,499.3 L939.5,499.3 L940.5,499.3 L941.5,499.3 L942.5,499.3 L943.5,499.3 L944.5,499.3 L945.6,499.3 L946.6,499.3 L947.6,499.3 L948.6,499.3 L949.6,499.3 L950.6,499.3 L951.6,499.3 L952.6,499.3 L953.6,499.3 L954.6,499.3 L955.6,499.3 L956.7,499.3 L957.7,499.3 L958.7,499.3 L959.7,499.3 L960.7,499.3 L961.7,499.3 L962.7,499.3 L963.7,499.3 L964.7,499.3 L965.7,499.3 L966.7,499.3 L967.8,499.3 L968.8,499.3 L969.8,499.3 L970.8,499.3 L971.8,499.3 L972.8,499.3 L973.8,499.3 L974.8,499.3 L975.8,499.3 L976.8,499.2 L977.8,499.2 L978.9,499.2 L979.9,499.2 L980.9,499.2 L981.9,499.2 L982.9,499.2 L983.9,499.2 L984.9,499.2 L985.9,499.2 L986.9,499.2 L987.9,499.1 L988.9,499.1 L990.0,499.1 L991.0,499.1 L992.0,499.0 L993.0,499.0 L994.0,498.9 L995.0,498.9 L996.0,498.8 L997.0,498.8 L998.0,498.7 L999.0,498.7 L1000.0,498.7 L1001.1,498.7 L1002.1,498.8 L1003.1,498.8 L1004.1,498.9 L1005.1,499.0 L1006.1,499.0 L1007.1,499.0 L1008.1,499.1 L1009.1,499.1 L1010.1,499.1 L1011.1,499.2 L1012.2,499.2 L1013.2,499.2 L1014.2,499.2 L1015.2,499.2 L1016.2,499.2 L1017.2,499.2 L1018.2,499.2 L1019.2,499.2 L1020.2,499.2 L1021.2,499.2 L1022.2,499.3 L1023.3,499.3 L1024.3,499.3 L1025.3,499.3 L1026.3,499.3 L1027.3,499.3 L1028.3,499.3 L1029.3,499.3 L1030.0,499.4 L1052.4,499.0 L1055.6,495.5 L1058.8,493.9 L1066.0,494.6 L1074.8,495.0 L1078.0,491.8 L1082.8,489.4 L1084.3,482.0 L1085.2,475.0 L1086.5,460.0 L1087.6,449.4 L1088.4,446.0 L1089.2,455.0 L1090.0,467.0 L1091.2,478.0 L1092.4,486.2 L1095.6,490.2 L1098.0,491.5 L1100.4,493.4 L1103.6,496.6 L1106.0,495.6 L1110.0,496.6 L1114.0,497.4 L1119.6,497.8" fill="none" stroke="#33dd33" stroke-width="1.3" stroke-linejoin="round"/>
<path d="M601.1,539.3 L602.1,539.3 L603.2,539.3 L604.2,539.3 L605.2,539.3 L606.2,539.3 L607.2,539.3 L608.2,539.2 L608.4,539.2 L608.5,539.2 L608.7,539.2 L608.9,539.2 L609.0,539.2 L609.2,539.1 L609.4,539.1 L609.5,539.0 L609.7,539.0 L609.9,538.8 L610.0,538.7 L610.2,538.4 L610.4,538.2 L610.6,538.1 L610.7,538.2 L610.9,538.4 L611.1,538.7 L611.2,538.8 L611.4,539.0 L611.6,539.0 L611.7,539.1 L611.9,539.1 L612.1,539.2 L612.2,539.2 L612.4,539.2 L612.6,539.2 L612.7,539.2 L612.9,539.2 L613.1,539.2 L613.2,539.3 L614.3,539.3 L615.3,539.3 L616.3,539.3 L617.3,539.3 L618.3,539.3 L619.3,539.3 L620.3,539.3 L621.3,539.3 L622.3,539.3 L623.3,539.3 L624.3,539.3 L625.4,539.3 L626.4,539.3 L627.4,539.3 L628.4,539.3 L629.4,539.3 L630.4,539.3 L631.4,539.3 L632.4,539.3 L633.4,539.3 L634.4,539.3 L635.4,539.3 L636.5,539.3 L637.5,539.3 L638.5,539.3 L639.5,539.3 L640.5,539.3 L641.5,539.3 L642.5,539.3 L643.5,539.3 L644.5,539.3 L645.5,539.3 L646.5,539.3 L647.6,539.3 L648.6,539.3 L649.6,539.3 L650.6,539.3 L651.6,539.3 L652.6,539.3 L653.6,539.3 L654.6,539.3 L655.6,539.3 L656.6,539.3 L657.6,539.3 L658.7,539.3 L659.7,539.3 L660.7,539.3 L661.7,539.3 L662.7,539.3 L663.7,539.3 L664.7,539.3 L665.7,539.3 L666.7,539.3 L667.7,539.3 L668.7,539.3 L669.8,539.3 L670.8,539.3 L671.8,539.3 L672.8,539.3 L673.8,539.3 L674.8,539.3 L675.8,539.3 L676.8,539.3 L677.8,539.3 L678.8,539.3 L679.8,539.3 L680.9,539.3 L681.9,539.3 L682.9,539.3 L683.9,539.3 L684.9,539.3 L685.9,539.3 L686.9,539.3 L687.9,539.3 L688.9,539.3 L689.9,539.3 L690.9,539.3 L692.0,539.3 L693.0,539.3 L694.0,539.3 L695.0,539.3 L696.0,539.3 L697.0,539.3 L698.0,539.3 L699.0,539.3 L700.0,539.3 L701.0,539.3 L702.0,539.3 L703.0,539.3 L704.1,539.3 L705.1,539.3 L706.1,539.3 L707.1,539.3 L708.1,539.3 L709.1,539.3 L710.1,539.3 L711.1,539.3 L712.1,539.3 L713.1,539.3 L714.1,539.3 L715.2,539.3 L716.2,539.3 L717.2,539.3 L718.2,539.3 L719.2,539.3 L720.2,539.3 L721.2,539.3 L722.2,539.3 L723.2,539.3 L724.2,539.3 L725.2,539.3 L726.3,539.3 L727.3,539.3 L728.3,539.3 L729.3,539.3 L730.3,539.3 L731.3,539.3 L732.3,539.3 L733.3,539.3 L734.3,539.3 L735.3,539.3 L736.3,539.3 L737.4,539.3 L738.4,539.3 L739.4,539.3 L740.4,539.3 L741.4,539.3 L742.4,539.3 L743.4,539.3 L744.4,539.3 L745.4,539.3 L746.4,539.3 L747.4,539.2 L748.5,539.2 L749.5,539.2 L750.5,539.2 L751.5,539.2 L752.5,539.2 L753.5,539.2 L754.5,539.1 L755.5,539.1 L756.5,539.0 L757.5,538.9 L757.7,538.9 L757.9,538.9 L758.0,538.9 L758.2,538.8 L758.4,538.8 L758.5,538.8 L758.7,538.7 L758.9,538.7 L759.1,538.6 L759.2,538.6 L759.4,538.5 L759.6,538.5 L759.7,538.4 L759.9,538.4 L760.1,538.3 L760.2,538.2 L760.4,538.1 L760.6,538.0 L760.7,537.8 L760.9,537.7 L761.1,537.5 L761.2,537.2 L761.4,536.9 L761.6,536.5 L761.7,535.9 L761.9,535.1 L762.1,534.0 L762.2,532.6 L762.4,531.2 L762.6,530.5 L762.8,531.2 L762.9,532.6 L763.1,534.0 L763.3,535.1 L763.4,535.9 L763.6,536.5 L763.8,536.9 L763.9,537.2 L764.1,537.5 L764.3,537.7 L764.4,537.8 L764.6,538.0 L764.8,538.1 L764.9,538.2 L765.1,538.3 L765.3,538.4 L765.4,538.4 L765.6,538.5 L765.8,538.5 L765.9,538.6 L766.1,538.6 L766.3,538.7 L766.5,538.7 L766.6,538.8 L766.8,538.8 L767.0,538.8 L767.1,538.9 L767.3,538.9 L767.5,538.9 L767.6,538.9 L767.8,538.9 L768.0,539.0 L769.0,539.0 L770.0,539.1 L771.0,539.1 L772.0,539.2 L773.0,539.2 L774.0,539.2 L775.0,539.2 L776.0,539.2 L777.0,539.2 L778.1,539.2 L779.1,539.3 L780.1,539.3 L781.1,539.3 L782.1,539.3 L783.1,539.3 L784.1,539.3 L785.1,539.3 L786.1,539.3 L787.1,539.3 L788.1,539.3 L789.2,539.3 L790.2,539.3 L791.2,539.3 L792.2,539.3 L793.2,539.3 L794.2,539.3 L795.2,539.3 L796.2,539.3 L797.2,539.3 L798.2,539.3 L799.2,539.3 L800.3,539.3 L801.3,539.3 L802.3,539.3 L803.3,539.3 L804.3,539.3 L805.3,539.3 L806.3,539.3 L807.3,539.3 L808.3,539.3 L809.3,539.3 L810.3,539.3 L811.4,539.3 L812.4,539.3 L813.4,539.3 L814.4,539.3 L815.4,539.3 L816.4,539.3 L817.4,539.3 L818.4,539.3 L819.4,539.3 L820.4,539.3 L821.4,539.3 L822.5,539.3 L823.5,539.3 L824.5,539.3 L825.5,539.3 L826.5,539.3 L827.5,539.3 L828.5,539.3 L829.5,539.2 L830.5,539.2 L831.5,539.2 L832.5,539.2 L833.6,539.2 L834.6,539.1 L835.6,539.0 L836.6,538.7 L837.6,538.5 L838.6,538.6 L839.6,538.8 L840.6,539.0 L841.6,539.1 L842.6,539.2 L843.6,539.2 L844.7,539.2 L845.7,539.2 L846.7,539.2 L847.7,539.3 L848.7,539.3 L849.7,539.3 L850.7,539.3 L851.7,539.3 L852.7,539.3 L853.7,539.3 L854.7,539.3 L855.8,539.3 L856.8,539.3 L857.8,539.3 L858.8,539.3 L859.8,539.3 L860.8,539.3 L861.8,539.3 L862.8,539.3 L863.8,539.3 L864.8,539.3 L865.8,539.3 L866.9,539.3 L867.9,539.3 L868.9,539.2 L869.9,539.2 L870.9,539.2 L871.9,539.2 L872.9,539.2 L873.9,539.2 L874.9,539.2 L875.9,539.2 L876.9,539.2 L878.0,539.1 L879.0,539.1 L880.0,539.1 L881.0,539.0 L882.0,538.9 L883.0,538.8 L884.0,538.7 L885.0,538.5 L886.0,538.4 L887.0,538.3 L888.0,538.4 L889.1,538.5 L890.1,538.7 L891.1,538.8 L892.1,538.9 L893.1,539.0 L894.1,539.1 L895.1,539.1 L896.1,539.1 L897.1,539.2 L898.1,539.2 L899.1,539.2 L900.2,539.2 L901.2,539.2 L902.2,539.2 L903.2,539.2 L904.2,539.2 L905.2,539.3 L906.2,539.3 L907.2,539.3 L908.2,539.3 L909.2,539.3 L910.2,539.3 L911.3,539.3 L912.3,539.3 L913.3,539.3 L914.3,539.3 L915.3,539.3 L916.3,539.3 L917.3,539.3 L918.3,539.3 L919.3,539.3 L920.3,539.3 L921.3,539.3 L922.3,539.3 L923.4,539.3 L924.4,539.3 L925.4,539.3 L926.4,539.3 L927.4,539.3 L928.4,539.3 L929.4,539.3 L930.4,539.3 L931.4,539.3 L932.4,539.3 L933.4,539.3 L934.5,539.3 L935.5,539.3 L936.5,539.3 L937.5,539.3 L938.5,539.3 L939.5,539.3 L940.5,539.3 L941.5,539.3 L942.5,539.3 L943.5,539.3 L944.5,539.3 L945.6,539.3 L946.6,539.3 L947.6,539.3 L948.6,539.3 L949.6,539.3 L950.6,539.3 L951.6,539.3 L952.6,539.3 L953.6,539.3 L954.6,539.3 L955.6,539.3 L956.7,539.3 L957.7,539.3 L958.7,539.3 L959.7,539.3 L960.7,539.3 L961.7,539.3 L962.7,539.3 L963.7,539.3 L964.7,539.3 L965.7,539.3 L966.7,539.3 L967.8,539.3 L968.8,539.3 L969.8,539.3 L970.8,539.3 L971.8,539.3 L972.8,539.3 L973.8,539.3 L974.8,539.3 L975.8,539.3 L976.8,539.3 L977.8,539.3 L978.9,539.3 L979.9,539.3 L980.9,539.3 L981.9,539.3 L982.9,539.3 L983.9,539.3 L984.9,539.3 L985.9,539.3 L986.9,539.3 L987.9,539.3 L988.9,539.3 L990.0,539.3 L991.0,539.3 L992.0,539.3 L993.0,539.3 L994.0,539.3 L995.0,539.3 L996.0,539.3 L997.0,539.3 L998.0,539.3 L999.0,539.3 L1000.0,539.3 L1001.1,539.3 L1002.1,539.3 L1003.1,539.3 L1004.1,539.3 L1005.1,539.3 L1006.1,539.3 L1007.1,539.3 L1008.1,539.3 L1009.1,539.3 L1010.1,539.3 L1011.1,539.3 L1012.2,539.3 L1013.2,539.3 L1014.2,539.3 L1015.2,539.3 L1016.2,539.3 L1017.2,539.3 L1018.2,539.3 L1019.2,539.3 L1020.2,539.3 L1021.2,539.3 L1022.2,539.3 L1023.3,539.3 L1024.3,539.3 L1025.3,539.3 L1026.3,539.3 L1027.3,539.3 L1028.3,539.3 L1029.3,539.3 L1030.0,539.3 L1054.0,538.2 L1060.0,537.2 L1068.4,535.4 L1081.2,535.0 L1083.5,533.8 L1085.2,531.0 L1086.5,522.0 L1087.3,510.2 L1087.9,495.0 L1088.4,486.0 L1089.0,495.0 L1089.5,510.2 L1090.5,524.0 L1091.6,532.6 L1094.0,535.8 L1102.0,536.6 L1110.0,537.6 L1119.6,538.6" fill="none" stroke="#2266cc" stroke-width="1.3" stroke-linejoin="round"/>
<path d="M601.1,589.5 L602.1,589.5 L603.2,589.5 L604.2,589.5 L605.2,589.5 L606.2,589.5 L607.2,589.5 L608.2,589.4 L608.4,589.4 L608.5,589.4 L608.7,589.4 L608.9,589.4 L609.0,589.4 L609.2,589.3 L609.4,589.3 L609.5,589.2 L609.7,589.1 L609.9,589.0 L610.0,588.9 L610.2,588.6 L610.4,588.4 L610.6,588.3 L610.7,588.4 L610.9,588.6 L611.1,588.9 L611.2,589.0 L611.4,589.1 L611.6,589.2 L611.7,589.3 L611.9,589.3 L612.1,589.4 L612.2,589.4 L612.4,589.4 L612.6,589.4 L612.7,589.4 L612.9,589.4 L613.1,589.4 L613.2,589.5 L614.3,589.5 L615.3,589.5 L616.3,589.5 L617.3,589.5 L618.3,589.5 L619.3,589.5 L620.3,589.5 L621.3,589.5 L622.3,589.5 L623.3,589.5 L624.3,589.5 L625.4,589.5 L626.4,589.5 L627.4,589.5 L628.4,589.5 L629.4,589.5 L630.4,589.5 L631.4,589.5 L632.4,589.5 L633.4,589.5 L634.4,589.5 L635.4,589.5 L636.5,589.5 L637.5,589.5 L638.5,589.5 L639.5,589.5 L640.5,589.5 L641.5,589.5 L642.5,589.5 L643.5,589.5 L644.5,589.5 L645.5,589.5 L646.5,589.5 L647.6,589.5 L648.6,589.5 L649.6,589.5 L650.6,589.5 L651.6,589.5 L652.6,589.5 L653.6,589.5 L654.6,589.5 L655.6,589.5 L656.6,589.5 L657.6,589.5 L658.7,589.5 L659.7,589.5 L660.7,589.5 L661.7,589.5 L662.7,589.5 L663.7,589.5 L664.7,589.5 L665.7,589.5 L666.7,589.5 L667.7,589.5 L668.7,589.5 L669.8,589.5 L670.8,589.5 L671.8,589.5 L672.8,589.5 L673.8,589.5 L674.8,589.5 L675.8,589.5 L676.8,589.5 L677.8,589.5 L678.8,589.5 L679.8,589.5 L680.9,589.5 L681.9,589.5 L682.9,589.5 L683.9,589.5 L684.9,589.5 L685.9,589.5 L686.9,589.5 L687.9,589.5 L688.9,589.5 L689.9,589.5 L690.9,589.5 L692.0,589.5 L693.0,589.5 L694.0,589.5 L695.0,589.5 L696.0,589.5 L697.0,589.5 L698.0,589.5 L699.0,589.5 L700.0,589.5 L701.0,589.5 L702.0,589.5 L703.0,589.5 L704.1,589.5 L705.1,589.5 L706.1,589.5 L707.1,589.5 L708.1,589.5 L709.1,589.5 L710.1,589.5 L711.1,589.5 L712.1,589.5 L713.1,589.5 L714.1,589.5 L715.2,589.5 L716.2,589.5 L717.2,589.5 L718.2,589.5 L719.2,589.5 L720.2,589.5 L721.2,589.5 L722.2,589.5 L723.2,589.5 L724.2,589.5 L725.2,589.5 L726.3,589.5 L727.3,589.5 L728.3,589.5 L729.3,589.5 L730.3,589.5 L731.3,589.5 L732.3,589.5 L733.3,589.5 L734.3,589.5 L735.3,589.5 L736.3,589.5 L737.4,589.5 L738.4,589.5 L739.4,589.5 L740.4,589.5 L741.4,589.5 L742.4,589.5 L743.4,589.5 L744.4,589.5 L745.4,589.5 L746.4,589.5 L747.4,589.4 L748.5,589.4 L749.5,589.4 L750.5,589.4 L751.5,589.4 L752.5,589.4 L753.5,589.4 L754.5,589.4 L755.5,589.3 L756.5,589.3 L757.5,589.2 L757.7,589.2 L757.9,589.2 L758.0,589.1 L758.2,589.1 L758.4,589.1 L758.5,589.1 L758.7,589.1 L758.9,589.0 L759.1,589.0 L759.2,589.0 L759.4,589.0 L759.6,588.9 L759.7,588.9 L759.9,588.8 L760.1,588.8 L760.2,588.7 L760.4,588.7 L760.6,588.6 L760.7,588.6 L760.9,588.5 L761.1,588.4 L761.2,588.3 L761.4,588.2 L761.6,588.0 L761.7,587.9 L761.9,587.7 L762.1,587.5 L762.2,587.2 L762.4,586.9 L762.6,586.5 L762.8,585.9 L762.9,585.0 L763.1,583.8 L763.3,582.3 L763.4,580.7 L763.6,580.0 L763.8,580.7 L763.9,582.3 L764.1,583.8 L764.3,585.0 L764.4,585.9 L764.6,586.5 L764.8,586.9 L764.9,587.2 L765.1,587.5 L765.3,587.7 L765.4,587.9 L765.6,588.0 L765.8,588.2 L765.9,588.3 L766.1,588.4 L766.3,588.5 L766.5,588.6 L766.6,588.6 L766.8,588.7 L767.0,588.7 L767.1,588.8 L767.3,588.8 L767.5,588.9 L767.6,588.9 L767.8,589.0 L768.0,589.0 L769.0,589.1 L770.0,589.2 L771.0,589.3 L772.0,589.3 L773.0,589.4 L774.0,589.4 L775.0,589.4 L776.0,589.4 L777.0,589.4 L778.1,589.4 L779.1,589.4 L780.1,589.4 L781.1,589.5 L782.1,589.5 L783.1,589.5 L784.1,589.5 L785.1,589.5 L786.1,589.5 L787.1,589.5 L788.1,589.5 L789.2,589.5 L790.2,589.5 L791.2,589.5 L792.2,589.5 L793.2,589.5 L794.2,589.5 L795.2,589.5 L796.2,589.5 L797.2,589.5 L798.2,589.5 L799.2,589.5 L800.3,589.5 L801.3,589.5 L802.3,589.5 L803.3,589.5 L804.3,589.5 L805.3,589.5 L806.3,589.5 L807.3,589.5 L808.3,589.5 L809.3,589.5 L810.3,589.5 L811.4,589.5 L812.4,589.5 L813.4,589.5 L814.4,589.5 L815.4,589.5 L816.4,589.5 L817.4,589.5 L818.4,589.5 L819.4,589.5 L820.4,589.5 L821.4,589.5 L822.5,589.5 L823.5,589.5 L824.5,589.5 L825.5,589.5 L826.5,589.5 L827.5,589.5 L828.5,589.5 L829.5,589.5 L830.5,589.5 L831.5,589.5 L832.5,589.5 L833.6,589.5 L834.6,589.5 L835.6,589.5 L836.6,589.5 L837.6,589.5 L838.6,589.5 L839.6,589.5 L840.6,589.5 L841.6,589.5 L842.6,589.5 L843.6,589.5 L844.7,589.5 L845.7,589.5 L846.7,589.5 L847.7,589.5 L848.7,589.5 L849.7,589.5 L850.7,589.5 L851.7,589.5 L852.7,589.4 L853.7,589.4 L854.7,589.4 L855.8,589.4 L856.8,589.4 L857.8,589.4 L858.8,589.4 L859.8,589.4 L860.8,589.4 L861.8,589.4 L862.8,589.4 L863.8,589.4 L864.8,589.4 L865.8,589.4 L866.9,589.4 L867.9,589.3 L868.9,589.3 L869.9,589.3 L870.9,589.3 L871.9,589.3 L872.9,589.2 L873.9,589.2 L874.9,589.2 L875.9,589.1 L876.9,589.0 L878.0,588.9 L879.0,588.8 L880.0,588.7 L881.0,588.5 L882.0,588.3 L883.0,588.0 L884.0,587.7 L885.0,587.4 L886.0,587.1 L887.0,587.0 L888.0,587.1 L889.1,587.4 L890.1,587.7 L891.1,588.0 L892.1,588.3 L893.1,588.5 L894.1,588.7 L895.1,588.8 L896.1,588.9 L897.1,589.0 L898.1,589.1 L899.1,589.2 L900.2,589.2 L901.2,589.2 L902.2,589.3 L903.2,589.3 L904.2,589.3 L905.2,589.3 L906.2,589.3 L907.2,589.4 L908.2,589.4 L909.2,589.4 L910.2,589.4 L911.3,589.4 L912.3,589.4 L913.3,589.4 L914.3,589.4 L915.3,589.4 L916.3,589.4 L917.3,589.4 L918.3,589.4 L919.3,589.4 L920.3,589.4 L921.3,589.4 L922.3,589.5 L923.4,589.5 L924.4,589.5 L925.4,589.5 L926.4,589.5 L927.4,589.5 L928.4,589.5 L929.4,589.5 L930.4,589.5 L931.4,589.5 L932.4,589.5 L933.4,589.5 L934.5,589.5 L935.5,589.5 L936.5,589.5 L937.5,589.5 L938.5,589.5 L939.5,589.5 L940.5,589.5 L941.5,589.5 L942.5,589.5 L943.5,589.5 L944.5,589.5 L945.6,589.5 L946.6,589.5 L947.6,589.5 L948.6,589.5 L949.6,589.5 L950.6,589.5 L951.6,589.5 L952.6,589.5 L953.6,589.5 L954.6,589.5 L955.6,589.5 L956.7,589.5 L957.7,589.5 L958.7,589.5 L959.7,589.5 L960.7,589.5 L961.7,589.5 L962.7,589.5 L963.7,589.5 L964.7,589.5 L965.7,589.5 L966.7,589.5 L967.8,589.5 L968.8,589.5 L969.8,589.5 L970.8,589.5 L971.8,589.5 L972.8,589.5 L973.8,589.5 L974.8,589.5 L975.8,589.5 L976.8,589.5 L977.8,589.5 L978.9,589.5 L979.9,589.5 L980.9,589.5 L981.9,589.5 L982.9,589.5 L983.9,589.5 L984.9,589.5 L985.9,589.5 L986.9,589.5 L987.9,589.5 L988.9,589.5 L990.0,589.5 L991.0,589.5 L992.0,589.5 L993.0,589.5 L994.0,589.5 L995.0,589.5 L996.0,589.5 L997.0,589.5 L998.0,589.5 L999.0,589.5 L1000.0,589.5 L1001.1,589.5 L1002.1,589.5 L1003.1,589.5 L1004.1,589.5 L1005.1,589.5 L1006.1,589.5 L1007.1,589.5 L1008.1,589.5 L1009.1,589.5 L1010.1,589.5 L1011.1,589.5 L1012.2,589.5 L1013.2,589.5 L1014.2,589.5 L1015.2,589.5 L1016.2,589.5 L1017.2,589.5 L1018.2,589.5 L1019.2,589.5 L1020.2,589.5 L1021.2,589.5 L1022.2,589.5 L1023.3,589.5 L1024.3,589.5 L1025.3,589.5 L1026.3,589.5 L1027.3,589.5 L1028.3,589.5 L1029.3,589.5 L1030.0,588.2 L1053.5,587.4 L1057.8,585.3 L1062.0,585.8 L1072.0,586.3 L1078.2,583.5 L1081.9,578.5 L1085.0,567.4 L1086.4,556.0 L1087.4,545.0 L1088.3,537.5 L1089.4,545.0 L1090.6,553.0 L1091.8,560.0 L1094.2,569.9 L1098.0,578.5 L1101.0,581.2 L1104.1,582.9 L1107.0,582.5 L1111.5,584.1 L1116.0,586.0 L1120.2,587.8" fill="none" stroke="#ee3333" stroke-width="1.3" stroke-linejoin="round"/>
<path d="M601.1,632.7 L602.1,632.7 L603.2,632.7 L604.2,632.7 L605.2,632.7 L606.2,632.7 L607.2,632.7 L608.2,632.6 L608.4,632.6 L608.5,632.6 L608.7,632.6 L608.9,632.6 L609.0,632.6 L609.2,632.5 L609.4,632.5 L609.5,632.4 L609.7,632.3 L609.9,632.2 L610.0,632.1 L610.2,631.8 L610.4,631.6 L610.6,631.5 L610.7,631.6 L610.9,631.8 L611.1,632.1 L611.2,632.2 L611.4,632.3 L611.6,632.4 L611.7,632.5 L611.9,632.5 L612.1,632.6 L612.2,632.6 L612.4,632.6 L612.6,632.6 L612.7,632.6 L612.9,632.6 L613.1,632.6 L613.2,632.7 L614.3,632.7 L615.3,632.7 L616.3,632.7 L617.3,632.7 L618.3,632.7 L619.3,632.7 L620.3,632.7 L621.3,632.7 L622.3,632.7 L623.3,632.7 L624.3,632.7 L625.4,632.7 L626.4,632.7 L627.4,632.7 L628.4,632.7 L629.4,632.7 L630.4,632.7 L631.4,632.7 L632.4,632.7 L633.4,632.7 L634.4,632.7 L635.4,632.7 L636.5,632.7 L637.5,632.7 L638.5,632.7 L639.5,632.7 L640.5,632.7 L641.5,632.7 L642.5,632.7 L643.5,632.7 L644.5,632.7 L645.5,632.7 L646.5,632.7 L647.6,632.7 L648.6,632.7 L649.6,632.7 L650.6,632.7 L651.6,632.7 L652.6,632.7 L653.6,632.7 L654.6,632.7 L655.6,632.7 L656.6,632.7 L657.6,632.7 L658.7,632.7 L659.7,632.7 L660.7,632.7 L661.7,632.7 L662.7,632.7 L663.7,632.7 L664.7,632.7 L665.7,632.7 L666.7,632.7 L667.7,632.7 L668.7,632.7 L669.8,632.7 L670.8,632.7 L671.8,632.7 L672.8,632.7 L673.8,632.7 L674.8,632.7 L675.8,632.7 L676.8,632.7 L677.8,632.7 L678.8,632.7 L679.8,632.7 L680.9,632.7 L681.9,632.7 L682.9,632.7 L683.9,632.7 L684.9,632.7 L685.9,632.7 L686.9,632.7 L687.9,632.7 L688.9,632.7 L689.9,632.7 L690.9,632.7 L692.0,632.7 L693.0,632.7 L694.0,632.7 L695.0,632.7 L696.0,632.7 L697.0,632.7 L698.0,632.7 L699.0,632.7 L700.0,632.7 L701.0,632.7 L702.0,632.7 L703.0,632.7 L704.1,632.7 L705.1,632.7 L706.1,632.7 L707.1,632.7 L708.1,632.7 L709.1,632.7 L710.1,632.7 L711.1,632.7 L712.1,632.7 L713.1,632.7 L714.1,632.7 L715.2,632.7 L716.2,632.7 L717.2,632.7 L718.2,632.7 L719.2,632.7 L720.2,632.7 L721.2,632.7 L722.2,632.7 L723.2,632.7 L724.2,632.7 L725.2,632.7 L726.3,632.7 L727.3,632.7 L728.3,632.7 L729.3,632.7 L730.3,632.7 L731.3,632.7 L732.3,632.7 L733.3,632.7 L734.3,632.7 L735.3,632.7 L736.3,632.7 L737.4,632.7 L738.4,632.7 L739.4,632.7 L740.4,632.7 L741.4,632.7 L742.4,632.7 L743.4,632.7 L744.4,632.7 L745.4,632.7 L746.4,632.7 L747.4,632.7 L748.5,632.6 L749.5,632.6 L750.5,632.6 L751.5,632.6 L752.5,632.6 L753.5,632.6 L754.5,632.6 L755.5,632.5 L756.5,632.5 L757.5,632.4 L757.7,632.4 L757.9,632.4 L758.0,632.4 L758.2,632.4 L758.4,632.4 L758.5,632.3 L758.7,632.3 L758.9,632.3 L759.1,632.3 L759.2,632.3 L759.4,632.2 L759.6,632.2 L759.7,632.2 L759.9,632.1 L760.1,632.1 L760.2,632.1 L760.4,632.0 L760.6,632.0 L760.7,631.9 L760.9,631.9 L761.1,631.8 L761.2,631.7 L761.4,631.7 L761.6,631.6 L761.7,631.5 L761.9,631.4 L762.1,631.2 L762.2,631.1 L762.4,630.9 L762.6,630.7 L762.8,630.5 L762.9,630.1 L763.1,629.7 L763.3,629.1 L763.4,628.3 L763.6,627.2 L763.8,625.7 L763.9,624.0 L764.1,623.0 L764.3,623.5 L764.4,625.0 L764.6,626.6 L764.8,627.9 L764.9,628.8 L765.1,629.5 L765.3,630.0 L765.4,630.3 L765.6,630.6 L765.8,630.8 L765.9,631.0 L766.1,631.2 L766.3,631.3 L766.5,631.4 L766.6,631.5 L766.8,631.6 L767.0,631.7 L767.1,631.8 L767.3,631.9 L767.5,631.9 L767.6,632.0 L767.8,632.0 L768.0,632.1 L769.0,632.3 L770.0,632.4 L771.0,632.4 L772.0,632.5 L773.0,632.5 L774.0,632.6 L775.0,632.6 L776.0,632.6 L777.0,632.6 L778.1,632.6 L779.1,632.6 L780.1,632.6 L781.1,632.6 L782.1,632.7 L783.1,632.7 L784.1,632.7 L785.1,632.7 L786.1,632.7 L787.1,632.7 L788.1,632.7 L789.2,632.7 L790.2,632.7 L791.2,632.7 L792.2,632.7 L793.2,632.7 L794.2,632.7 L795.2,632.7 L796.2,632.7 L797.2,632.7 L798.2,632.7 L799.2,632.7 L800.3,632.7 L801.3,632.7 L802.3,632.7 L803.3,632.7 L804.3,632.7 L805.3,632.7 L806.3,632.7 L807.3,632.7 L808.3,632.7 L809.3,632.7 L810.3,632.7 L811.4,632.7 L812.4,632.7 L813.4,632.7 L814.4,632.7 L815.4,632.7 L816.4,632.7 L817.4,632.7 L818.4,632.7 L819.4,632.7 L820.4,632.7 L821.4,632.7 L822.5,632.7 L823.5,632.7 L824.5,632.7 L825.5,632.7 L826.5,632.7 L827.5,632.7 L828.5,632.7 L829.5,632.7 L830.5,632.7 L831.5,632.7 L832.5,632.7 L833.6,632.7 L834.6,632.7 L835.6,632.7 L836.6,632.7 L837.6,632.7 L838.6,632.7 L839.6,632.7 L840.6,632.7 L841.6,632.7 L842.6,632.7 L843.6,632.7 L844.7,632.7 L845.7,632.7 L846.7,632.7 L847.7,632.7 L848.7,632.7 L849.7,632.7 L850.7,632.7 L851.7,632.6 L852.7,632.6 L853.7,632.6 L854.7,632.6 L855.8,632.6 L856.8,632.6 L857.8,632.6 L858.8,632.6 L859.8,632.6 L860.8,632.6 L861.8,632.6 L862.8,632.6 L863.8,632.6 L864.8,632.6 L865.8,632.6 L866.9,632.6 L867.9,632.6 L868.9,632.6 L869.9,632.6 L870.9,632.5 L871.9,632.5 L872.9,632.5 L873.9,632.5 L874.9,632.5 L875.9,632.4 L876.9,632.4 L878.0,632.4 L879.0,632.3 L880.0,632.3 L881.0,632.2 L882.0,632.1 L883.0,632.0 L884.0,631.8 L885.0,631.6 L886.0,631.4 L887.0,631.3 L888.0,631.4 L889.1,631.5 L890.1,631.6 L891.1,631.7 L892.1,631.7 L893.1,631.8 L894.1,631.8 L895.1,631.8 L896.1,631.8 L897.1,631.8 L898.1,631.8 L899.1,631.8 L900.2,631.8 L901.2,631.9 L902.2,631.9 L903.2,632.0 L904.2,632.0 L905.2,632.1 L906.2,632.2 L907.2,632.2 L908.2,632.3 L909.2,632.3 L910.2,632.3 L911.3,632.4 L912.3,632.4 L913.3,632.4 L914.3,632.4 L915.3,632.5 L916.3,632.5 L917.3,632.5 L918.3,632.5 L919.3,632.5 L920.3,632.5 L921.3,632.6 L922.3,632.6 L923.4,632.6 L924.4,632.6 L925.4,632.6 L926.4,632.6 L927.4,632.6 L928.4,632.6 L929.4,632.6 L930.4,632.6 L931.4,632.6 L932.4,632.6 L933.4,632.6 L934.5,632.6 L935.5,632.6 L936.5,632.6 L937.5,632.6 L938.5,632.6 L939.5,632.6 L940.5,632.7 L941.5,632.7 L942.5,632.7 L943.5,632.7 L944.5,632.7 L945.6,632.7 L946.6,632.7 L947.6,632.7 L948.6,632.7 L949.6,632.7 L950.6,632.7 L951.6,632.7 L952.6,632.7 L953.6,632.7 L954.6,632.7 L955.6,632.7 L956.7,632.7 L957.7,632.7 L958.7,632.7 L959.7,632.7 L960.7,632.7 L961.7,632.7 L962.7,632.7 L963.7,632.7 L964.7,632.7 L965.7,632.7 L966.7,632.7 L967.8,632.7 L968.8,632.7 L969.8,632.7 L970.8,632.7 L971.8,632.7 L972.8,632.7 L973.8,632.7 L974.8,632.7 L975.8,632.7 L976.8,632.7 L977.8,632.7 L978.9,632.7 L979.9,632.7 L980.9,632.7 L981.9,632.7 L982.9,632.7 L983.9,632.7 L984.9,632.7 L985.9,632.7 L986.9,632.7 L987.9,632.7 L988.9,632.7 L990.0,632.7 L991.0,632.7 L992.0,632.7 L993.0,632.7 L994.0,632.7 L995.0,632.7 L996.0,632.7 L997.0,632.7 L998.0,632.7 L999.0,632.7 L1000.0,632.7 L1001.1,632.7 L1002.1,632.7 L1003.1,632.7 L1004.1,632.7 L1005.1,632.7 L1006.1,632.7 L1007.1,632.7 L1008.1,632.7 L1009.1,632.7 L1010.1,632.7 L1011.1,632.7 L1012.2,632.7 L1013.2,632.7 L1014.2,632.7 L1015.2,632.7 L1016.2,632.7 L1017.2,632.7 L1018.2,632.7 L1019.2,632.7 L1020.2,632.7 L1021.2,632.7 L1022.2,632.7 L1023.3,632.7 L1024.3,632.7 L1025.3,632.7 L1026.3,632.7 L1027.3,632.7 L1028.3,632.7 L1029.3,632.7 L1030.0,631.4 L1053.5,630.7 L1062.1,627.3 L1073.2,624.5 L1077.6,621.8 L1080.0,615.0 L1081.9,608.2 L1085.6,595.8 L1088.3,580.8 L1091.1,595.8 L1092.7,608.0 L1094.2,619.3 L1096.5,621.5 L1099.2,623.0 L1101.5,626.0 L1104.1,628.6 L1110.3,629.8 L1115.0,630.2 L1120.2,630.4" fill="none" stroke="#333333" stroke-width="1.3" stroke-linejoin="round"/>
<circle cx="611.0" cy="494.8" r="1.8" fill="#33dd33"/>
<polygon points="761.7,477.2 763.8,479.7 761.7,482.2 759.6,479.7" fill="#33dd33" stroke="none" stroke-width="0.5" />
<path d="M886.4,497.9 L883.9,495.2 A1.25,1.25 0 0 1 886.4,494.0 A1.25,1.25 0 0 1 888.9,495.2 Z" fill="#33dd33"/>
<path d="M1088.4,440.0 L1090.9,443.3 Q1090.1,444.8 1088.4,443.5 Q1086.7,444.8 1085.9,443.3 Z M1088.4,442.7 L1089.5,445.2 L1087.4,445.2 Z" fill="#33dd33"/>
<circle cx="611.0" cy="534.6" r="1.8" fill="#2266cc"/>
<polygon points="762.2,524.3 764.3,526.8 762.2,529.3 760.1,526.8" fill="#2266cc" stroke="none" stroke-width="0.5" />
<path d="M887.7,537.9 L885.2,535.2 A1.25,1.25 0 0 1 887.7,534.0 A1.25,1.25 0 0 1 890.2,535.2 Z" fill="#2266cc"/>
<path d="M1088.4,480.1 L1090.9,483.4 Q1090.1,484.9 1088.4,483.6 Q1086.7,484.9 1085.9,483.4 Z M1088.4,482.8 L1089.5,485.3 L1087.4,485.3 Z" fill="#2266cc"/>
<circle cx="611.0" cy="584.3" r="1.8" fill="#ee3333"/>
<polygon points="763.5,573.5 765.6,576.0 763.5,578.5 761.4,576.0" fill="#ee3333" stroke="none" stroke-width="0.5" />
<path d="M886.4,586.8 L883.9,584.1 A1.25,1.25 0 0 1 886.4,582.9 A1.25,1.25 0 0 1 888.9,584.1 Z" fill="#ee3333"/>
<path d="M1088.4,531.6 L1090.9,534.9 Q1090.1,536.4 1088.4,535.1 Q1086.7,536.4 1085.9,534.9 Z M1088.4,534.3 L1089.5,536.8 L1087.4,536.8 Z" fill="#ee3333"/>
<circle cx="611.0" cy="628.3" r="1.8" fill="#222222"/>
<polygon points="764.0,617.1 766.1,619.6 764.0,622.1 761.9,619.6" fill="#222222" stroke="none" stroke-width="0.5" />
<path d="M886.4,630.8 L883.9,628.1 A1.25,1.25 0 0 1 886.4,626.9 A1.25,1.25 0 0 1 888.9,628.1 Z" fill="#222222"/>
<path d="M1088.4,574.3 L1090.9,577.6 Q1090.1,579.1 1088.4,577.8 Q1086.7,579.1 1085.9,577.6 Z M1088.4,577.0 L1089.5,579.5 L1087.4,579.5 Z" fill="#222222"/>
<text x="939.5" y="513.5" font-size="11.1" fill="#22dd22" text-anchor="start" font-weight="normal" font-family="'Liberation Sans', Arial, sans-serif" >Micro-plate with 3 pads</text>
<text x="939.5" y="552.4" font-size="11.1" fill="#2255dd" text-anchor="start" font-weight="normal" font-family="'Liberation Sans', Arial, sans-serif" >Micro-plate with 2 pads</text>
<text x="940.8" y="602.6" font-size="11.1" fill="#ee2222" text-anchor="start" font-weight="normal" font-family="'Liberation Sans', Arial, sans-serif" >Micro-plate with 1 pad</text>
<text x="956.0" y="644.2" font-size="11.1" fill="#111" text-anchor="start" font-weight="normal" font-family="'Liberation Sans', Arial, sans-serif" >Bare micro-plate</text>
<rect x="870" y="395.6" width="181.2" height="75.7" fill="#fff" stroke="#c4c4c4" stroke-width="1"/>
<path d="M870.2,468.5 L871.4,468.5 L872.5,468.4 L873.6,468.4 L874.8,468.3 L875.9,468.3 L877.0,468.2 L878.2,468.2 L879.3,468.2 L880.4,468.1 L881.6,468.1 L882.7,468.0 L883.8,468.0 L885.0,467.9 L886.1,467.9 L887.2,467.8 L888.4,467.8 L889.5,467.7 L890.6,467.6 L891.8,467.6 L892.9,467.5 L894.0,467.5 L895.2,467.4 L896.3,467.3 L897.4,467.3 L898.6,467.2 L899.7,467.1 L900.8,467.1 L902.0,467.0 L903.1,466.9 L904.2,466.8 L905.4,466.7 L906.5,466.7 L907.6,466.6 L908.8,466.5 L909.9,466.4 L911.0,466.3 L912.2,466.2 L913.3,466.1 L914.4,466.0 L915.6,465.9 L916.7,465.8 L917.8,465.6 L918.9,465.5 L920.1,465.4 L921.2,465.3 L922.3,465.1 L923.5,465.0 L924.6,464.8 L925.7,464.7 L926.9,464.5 L928.0,464.4 L929.1,464.2 L930.3,464.0 L931.4,463.8 L932.5,463.6 L933.7,463.4 L934.8,463.2 L935.9,463.0 L937.1,462.8 L938.2,462.5 L939.3,462.3 L940.5,462.0 L941.6,461.7 L942.7,461.4 L943.9,461.0 L945.0,460.7 L946.1,460.3 L947.3,459.9 L948.4,459.5 L949.5,459.1 L950.7,458.6 L951.8,458.1 L952.9,457.6 L954.1,457.0 L955.2,456.3 L956.3,455.7 L957.5,455.0 L958.6,454.2 L959.7,453.3 L960.9,452.4 L962.0,451.5 L963.1,450.5 L964.2,449.4 L965.4,448.2 L966.5,447.0 L967.6,445.7 L968.8,444.3 L969.9,442.9 L971.0,441.5 L972.2,440.1 L973.3,438.8 L974.4,437.5 L975.6,436.3 L976.7,435.3 L977.8,434.4 L979.0,433.9 L980.1,433.6 L981.2,433.5 L982.4,433.8 L983.5,434.3 L984.6,435.1 L985.8,436.1 L986.9,437.2 L988.0,438.5 L989.2,439.8 L990.3,441.2 L991.4,442.7 L992.6,444.0 L993.7,445.4 L994.8,446.7 L996.0,448.0 L997.1,449.1 L998.2,450.2 L999.4,451.3 L1000.5,452.3 L1001.6,453.2 L1002.8,454.0 L1003.9,454.8 L1005.0,455.5 L1006.2,456.2 L1007.3,456.9 L1008.4,457.4 L1009.5,458.0 L1010.7,458.5 L1011.8,459.0 L1012.9,459.4 L1014.1,459.9 L1015.2,460.3 L1016.3,460.6 L1017.5,461.0 L1018.6,461.3 L1019.7,461.6 L1020.9,461.9 L1022.0,462.2 L1023.1,462.5 L1024.3,462.7 L1025.4,463.0 L1026.5,463.2 L1027.7,463.4 L1028.8,463.6 L1029.9,463.8 L1031.1,464.0 L1032.2,464.2 L1033.3,464.3 L1034.5,464.5 L1035.6,464.7 L1036.7,464.8 L1037.9,465.0 L1039.0,465.1 L1040.1,465.2 L1041.3,465.4 L1042.4,465.5 L1043.5,465.6 L1044.7,465.7 L1045.8,465.9 L1046.9,466.0 L1048.1,466.1 L1049.2,466.2 L1050.3,466.3 L1051.5,466.4" fill="none" stroke="#707070" stroke-width="1" />
<path d="M870.2,467.6 L871.4,467.5 L872.5,467.4 L873.6,467.4 L874.8,467.3 L875.9,467.3 L877.0,467.2 L878.2,467.1 L879.3,467.1 L880.4,467.0 L881.6,466.9 L882.7,466.8 L883.8,466.8 L885.0,466.7 L886.1,466.6 L887.2,466.5 L888.4,466.4 L889.5,466.3 L890.6,466.2 L891.8,466.2 L892.9,466.1 L894.0,466.0 L895.2,465.8 L896.3,465.7 L897.4,465.6 L898.6,465.5 L899.7,465.4 L900.8,465.3 L902.0,465.1 L903.1,465.0 L904.2,464.9 L905.4,464.7 L906.5,464.6 L907.6,464.4 L908.8,464.2 L909.9,464.1 L911.0,463.9 L912.2,463.7 L913.3,463.5 L914.4,463.3 L915.6,463.0 L916.7,462.8 L917.8,462.6 L918.9,462.3 L920.1,462.0 L921.2,461.8 L922.3,461.4 L923.5,461.1 L924.6,460.8 L925.7,460.4 L926.9,460.0 L928.0,459.6 L929.1,459.1 L930.3,458.6 L931.4,458.1 L932.5,457.6 L933.7,456.9 L934.8,456.3 L935.9,455.6 L937.1,454.8 L938.2,454.0 L939.3,453.1 L940.5,452.1 L941.6,451.1 L942.7,450.0 L943.9,448.8 L945.0,447.5 L946.1,446.2 L947.3,444.8 L948.4,443.3 L949.5,441.8 L950.7,440.4 L951.8,438.9 L952.9,437.6 L954.1,436.4 L955.2,435.4 L956.3,434.6 L957.5,434.2 L958.6,434.0 L959.7,434.2 L960.9,434.6 L962.0,435.4 L963.1,436.4 L964.2,437.6 L965.4,438.9 L966.5,440.4 L967.6,441.8 L968.8,443.3 L969.9,444.8 L971.0,446.2 L972.2,447.5 L973.3,448.8 L974.4,450.0 L975.6,451.1 L976.7,452.1 L977.8,453.1 L979.0,454.0 L980.1,454.8 L981.2,455.6 L982.4,456.3 L983.5,456.9 L984.6,457.6 L985.8,458.1 L986.9,458.6 L988.0,459.1 L989.2,459.6 L990.3,460.0 L991.4,460.4 L992.6,460.8 L993.7,461.1 L994.8,461.4 L996.0,461.8 L997.1,462.0 L998.2,462.3 L999.4,462.6 L1000.5,462.8 L1001.6,463.0 L1002.8,463.3 L1003.9,463.5 L1005.0,463.7 L1006.2,463.9 L1007.3,464.1 L1008.4,464.2 L1009.5,464.4 L1010.7,464.6 L1011.8,464.7 L1012.9,464.9 L1014.1,465.0 L1015.2,465.1 L1016.3,465.3 L1017.5,465.4 L1018.6,465.5 L1019.7,465.6 L1020.9,465.7 L1022.0,465.8 L1023.1,466.0 L1024.3,466.1 L1025.4,466.2 L1026.5,466.2 L1027.7,466.3 L1028.8,466.4 L1029.9,466.5 L1031.1,466.6 L1032.2,466.7 L1033.3,466.8 L1034.5,466.8 L1035.6,466.9 L1036.7,467.0 L1037.9,467.1 L1039.0,467.1 L1040.1,467.2 L1041.3,467.3 L1042.4,467.3 L1043.5,467.4 L1044.7,467.4 L1045.8,467.5 L1046.9,467.6 L1048.1,467.6 L1049.2,467.7 L1050.3,467.7 L1051.5,467.8" fill="none" stroke="#ee4444" stroke-width="1" />
<path d="M870.2,465.8 L871.4,465.7 L872.5,465.6 L873.6,465.4 L874.8,465.3 L875.9,465.1 L877.0,465.0 L878.2,464.8 L879.3,464.7 L880.4,464.5 L881.6,464.3 L882.7,464.1 L883.8,463.9 L885.0,463.7 L886.1,463.4 L887.2,463.2 L888.4,462.9 L889.5,462.6 L890.6,462.3 L891.8,462.0 L892.9,461.6 L894.0,461.2 L895.2,460.8 L896.3,460.3 L897.4,459.8 L898.6,459.3 L899.7,458.7 L900.8,458.1 L902.0,457.3 L903.1,456.6 L904.2,455.7 L905.4,454.8 L906.5,453.7 L907.6,452.6 L908.8,451.4 L909.9,450.1 L911.0,448.7 L912.2,447.3 L913.3,445.8 L914.4,444.3 L915.6,442.9 L916.7,441.6 L917.8,440.4 L918.9,439.5 L920.1,439.0 L921.2,438.8 L922.3,439.0 L923.5,439.5 L924.6,440.4 L925.7,441.6 L926.9,442.9 L928.0,444.3 L929.1,445.8 L930.3,447.3 L931.4,448.7 L932.5,450.1 L933.7,451.4 L934.8,452.6 L935.9,453.7 L937.1,454.8 L938.2,455.7 L939.3,456.6 L940.5,457.3 L941.6,458.1 L942.7,458.7 L943.9,459.3 L945.0,459.8 L946.1,460.3 L947.3,460.8 L948.4,461.2 L949.5,461.6 L950.7,462.0 L951.8,462.3 L952.9,462.6 L954.1,462.9 L955.2,463.2 L956.3,463.4 L957.5,463.7 L958.6,463.9 L959.7,464.1 L960.9,464.3 L962.0,464.5 L963.1,464.7 L964.2,464.8 L965.4,465.0 L966.5,465.1 L967.6,465.3 L968.8,465.4 L969.9,465.6 L971.0,465.7 L972.2,465.8 L973.3,465.9 L974.4,466.0 L975.6,466.1 L976.7,466.2 L977.8,466.3 L979.0,466.4 L980.1,466.5 L981.2,466.6 L982.4,466.7 L983.5,466.8 L984.6,466.9 L985.8,467.0 L986.9,467.0 L988.0,467.1 L989.2,467.2 L990.3,467.2 L991.4,467.3 L992.6,467.4 L993.7,467.4 L994.8,467.5 L996.0,467.6 L997.1,467.6 L998.2,467.7 L999.4,467.7 L1000.5,467.8 L1001.6,467.8 L1002.8,467.9 L1003.9,467.9 L1005.0,468.0 L1006.2,468.0 L1007.3,468.1 L1008.4,468.1 L1009.5,468.2 L1010.7,468.2 L1011.8,468.3 L1012.9,468.3 L1014.1,468.3 L1015.2,468.4 L1016.3,468.4 L1017.5,468.5 L1018.6,468.5 L1019.7,468.5 L1020.9,468.6 L1022.0,468.6 L1023.1,468.6 L1024.3,468.7 L1025.4,468.7 L1026.5,468.7 L1027.7,468.8 L1028.8,468.8 L1029.9,468.8 L1031.1,468.8 L1032.2,468.9 L1033.3,468.9 L1034.5,468.9 L1035.6,468.9 L1036.7,469.0 L1037.9,469.0 L1039.0,469.0 L1040.1,469.0 L1041.3,469.1 L1042.4,469.1 L1043.5,469.1 L1044.7,469.1 L1045.8,469.2 L1046.9,469.2 L1048.1,469.2 L1049.2,469.2 L1050.3,469.2 L1051.5,469.3" fill="none" stroke="#3377dd" stroke-width="1" />
<path d="M870.2,458.0 L871.4,457.6 L872.5,457.1 L873.6,456.7 L874.8,456.2 L875.9,455.7 L877.0,455.2 L878.2,454.6 L879.3,454.0 L880.4,453.3 L881.6,452.6 L882.7,451.8 L883.8,451.0 L885.0,450.0 L886.1,449.0 L887.2,447.9 L888.4,446.7 L889.5,445.4 L890.6,444.0 L891.8,442.4 L892.9,440.7 L894.0,438.8 L895.2,436.7 L896.3,434.4 L897.4,432.0 L898.6,429.4 L899.7,426.6 L900.8,423.8 L902.0,420.9 L903.1,418.0 L904.2,415.3 L905.4,412.8 L906.5,410.8 L907.6,409.3 L908.8,408.5 L909.9,408.5 L911.0,409.1 L912.2,410.5 L913.3,412.4 L914.4,414.8 L915.6,417.4 L916.7,420.3 L917.8,423.2 L918.9,426.1 L920.1,428.9 L921.2,431.5 L922.3,434.0 L923.5,436.2 L924.6,438.4 L925.7,440.3 L926.9,442.1 L928.0,443.7 L929.1,445.1 L930.3,446.5 L931.4,447.7 L932.5,448.8 L933.7,449.8 L934.8,450.8 L935.9,451.6 L937.1,452.4 L938.2,453.2 L939.3,453.9 L940.5,454.5 L941.6,455.1 L942.7,455.6 L943.9,456.1 L945.0,456.6 L946.1,457.1 L947.3,457.5 L948.4,457.9 L949.5,458.3 L950.7,458.6 L951.8,459.0 L952.9,459.3 L954.1,459.6 L955.2,459.9 L956.3,460.1 L957.5,460.4 L958.6,460.7 L959.7,460.9 L960.9,461.1 L962.0,461.4 L963.1,461.6 L964.2,461.8 L965.4,462.0 L966.5,462.2 L967.6,462.4 L968.8,462.5 L969.9,462.7 L971.0,462.9 L972.2,463.0 L973.3,463.2 L974.4,463.4 L975.6,463.5 L976.7,463.6 L977.8,463.8 L979.0,463.9 L980.1,464.0 L981.2,464.2 L982.4,464.3 L983.5,464.4 L984.6,464.5 L985.8,464.6 L986.9,464.8 L988.0,464.9 L989.2,465.0 L990.3,465.1 L991.4,465.2 L992.6,465.3 L993.7,465.4 L994.8,465.4 L996.0,465.5 L997.1,465.6 L998.2,465.7 L999.4,465.8 L1000.5,465.9 L1001.6,465.9 L1002.8,466.0 L1003.9,466.1 L1005.0,466.2 L1006.2,466.2 L1007.3,466.3 L1008.4,466.4 L1009.5,466.5 L1010.7,466.5 L1011.8,466.6 L1012.9,466.6 L1014.1,466.7 L1015.2,466.8 L1016.3,466.8 L1017.5,466.9 L1018.6,466.9 L1019.7,467.0 L1020.9,467.0 L1022.0,467.1 L1023.1,467.1 L1024.3,467.2 L1025.4,467.2 L1026.5,467.3 L1027.7,467.3 L1028.8,467.4 L1029.9,467.4 L1031.1,467.5 L1032.2,467.5 L1033.3,467.6 L1034.5,467.6 L1035.6,467.6 L1036.7,467.7 L1037.9,467.7 L1039.0,467.8 L1040.1,467.8 L1041.3,467.8 L1042.4,467.9 L1043.5,467.9 L1044.7,467.9 L1045.8,468.0 L1046.9,468.0 L1048.1,468.0 L1049.2,468.1 L1050.3,468.1 L1051.5,468.1" fill="none" stroke="#33dd33" stroke-width="1" />
<circle cx="909.5" cy="404.0" r="1.7" fill="#33cc33"/>
<text x="914.0" y="406.8" font-size="10.5" fill="#33cc33" text-anchor="start" font-weight="normal" font-family="'Liberation Serif', 'Times New Roman', serif" >3 pads</text>
<polygon points="922.5,432.2 924.5,434.6 922.5,437.0 920.5,434.6" fill="#2255ee" stroke="none" stroke-width="0.5" />
<text x="920.4" y="430.0" font-size="10.5" fill="#3344dd" text-anchor="start" font-weight="normal" font-family="'Liberation Serif', 'Times New Roman', serif" >2 pads</text>
<polygon points="958.8,427.4 960.8,429.8 958.8,432.2 956.8,429.8" fill="#ee2222" stroke="none" stroke-width="0.5" />
<text x="950.0" y="422.8" font-size="10.5" fill="#ee2222" text-anchor="start" font-weight="normal" font-family="'Liberation Serif', 'Times New Roman', serif" >1 pad</text>
<polygon points="981.0,427.1 983.0,429.5 981.0,431.9 979.0,429.5" fill="#111" stroke="none" stroke-width="0.5" />
<text x="977.2" y="422.0" font-size="10.5" fill="#111" text-anchor="start" font-weight="normal" font-family="'Liberation Serif', 'Times New Roman', serif" >Bare</text>
<text x="892.9" y="481.5" font-size="12" fill="#000" text-anchor="middle" font-weight="normal" font-family="'Liberation Serif', 'Times New Roman', serif" >266</text>
<text x="938.2" y="481.5" font-size="12" fill="#000" text-anchor="middle" font-weight="normal" font-family="'Liberation Serif', 'Times New Roman', serif" >268</text>
<text x="983.5" y="481.5" font-size="12" fill="#000" text-anchor="middle" font-weight="normal" font-family="'Liberation Serif', 'Times New Roman', serif" >270</text>
<text x="1028.8" y="481.5" font-size="12" fill="#000" text-anchor="middle" font-weight="normal" font-family="'Liberation Serif', 'Times New Roman', serif" >272</text>
<text x="965.0" y="491.6" font-size="11.6" fill="#000" text-anchor="middle" font-weight="normal" font-family="'Liberation Sans', Arial, sans-serif" >Frequency(KHz)</text>
<text x="0.0" y="0.0" font-size="11.2" fill="#000" text-anchor="middle" font-weight="normal" font-family="'Liberation Sans', Arial, sans-serif" transform="translate(862.8,434) rotate(-90)">Amplitude</text>
<text x="416.2" y="421.2" font-size="18" fill="#000" text-anchor="start" font-weight="normal" font-family="'Liberation Serif', 'Times New Roman', serif" >Measure sequentially</text>
<text x="416.2" y="442.1" font-size="18" fill="#000" text-anchor="start" font-weight="normal" font-family="'Liberation Serif', 'Times New Roman', serif" >resonant frequencies</text>
<polygon points="409.0,451.8 569.2,451.8 569.2,446.4 581.8,456.8 569.2,467.3 569.2,461.9 409.0,461.9" fill="#fff" stroke="#000" stroke-width="1.3" />
<polygon points="1126.2,455.6 1161.0,455.6 1161.0,451.0 1171.1,460.7 1161.0,470.9 1161.0,465.8 1126.2,465.8" fill="#fff" stroke="#000" stroke-width="1.1" />
<rect x="1176.2" y="392.2" width="151.3" height="120.3" fill="#fff" stroke="#000" stroke-width="1.3"/>
<text x="1252.0" y="414.9" font-size="17.8" fill="#000" text-anchor="middle" font-weight="normal" font-family="'Liberation Serif', 'Times New Roman', serif" >Detect</text>
<text x="1252.0" y="436.2" font-size="17.8" fill="#000" text-anchor="middle" font-weight="normal" font-family="'Liberation Serif', 'Times New Roman', serif" >sequentially the</text>
<text x="1252.0" y="457.9" font-size="17.8" fill="#000" text-anchor="middle" font-weight="normal" font-family="'Liberation Serif', 'Times New Roman', serif" >particles by</text>
<text x="1252.0" y="479.7" font-size="17.8" fill="#000" text-anchor="middle" font-weight="normal" font-family="'Liberation Serif', 'Times New Roman', serif" >utilizing the</text>
<text x="1252.0" y="501.0" font-size="17.8" fill="#000" text-anchor="middle" font-weight="normal" font-family="'Liberation Serif', 'Times New Roman', serif" >frequency shifts</text>
<polygon points="1244.2,514.8 1258.1,514.8 1258.1,543.5 1262.7,543.5 1251.2,552.8 1241.9,543.5 1244.2,543.5" fill="#fff" stroke="#000" stroke-width="1.1" />
<rect x="1178" y="556" width="150.4" height="119.4" fill="#fff" stroke="#000" stroke-width="1.3"/>
<text x="1253.0" y="589.8" font-size="17.8" fill="#ff0000" text-anchor="middle" font-weight="bold" font-family="'Liberation Serif', 'Times New Roman', serif" >Identify</text>
<text x="1253.0" y="610.6" font-size="17.8" fill="#ff0000" text-anchor="middle" font-weight="bold" font-family="'Liberation Serif', 'Times New Roman', serif" >sequentially the</text>
<text x="1253.0" y="631.4" font-size="17.8" fill="#ff0000" text-anchor="middle" font-weight="bold" font-family="'Liberation Serif', 'Times New Roman', serif" >biomolecules in</text>
<text x="1253.0" y="653.2" font-size="17.8" fill="#ff0000" text-anchor="middle" font-weight="bold" font-family="'Liberation Serif', 'Times New Roman', serif" >the applications</text>
</svg></body></html>
